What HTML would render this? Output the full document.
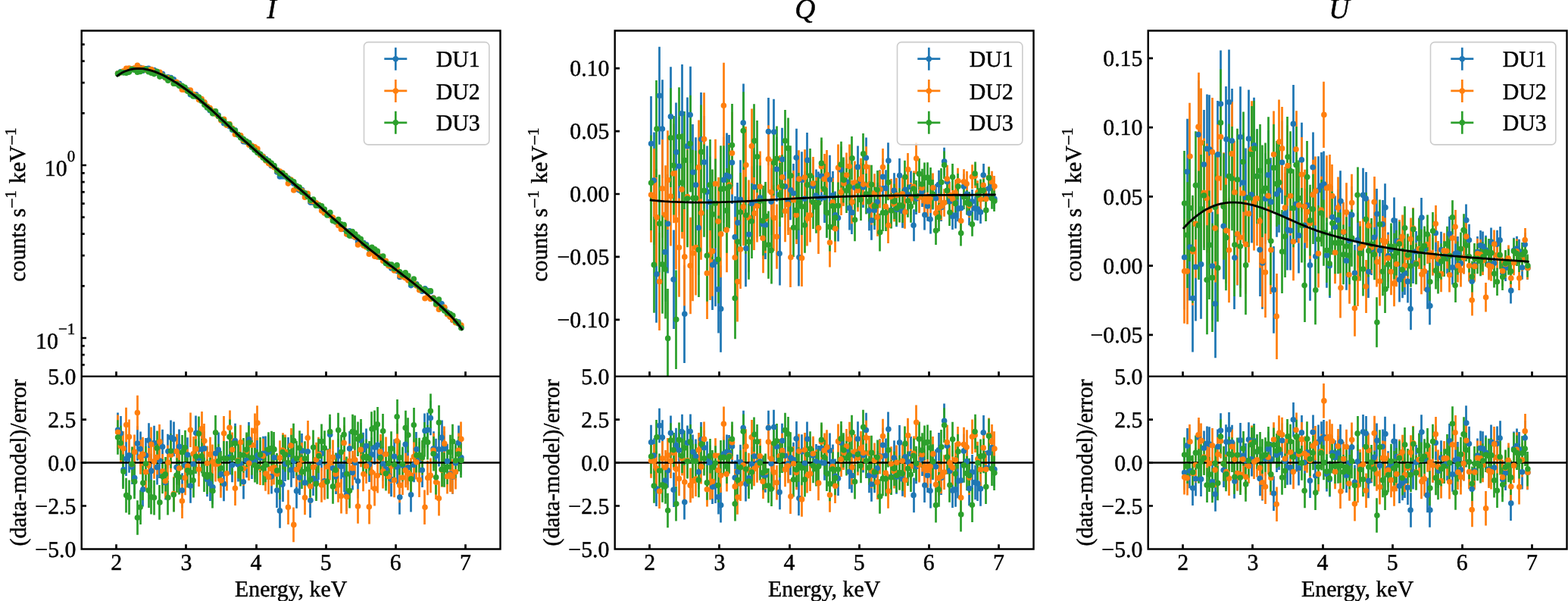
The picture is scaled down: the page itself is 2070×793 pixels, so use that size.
<!DOCTYPE html>
<html><head><meta charset="utf-8"><title>IXPE spectra</title>
<style>
html,body{margin:0;padding:0;background:#fff;}
body{width:2070px;height:793px;overflow:hidden;}
svg{display:block;}
.t{font-family:"Liberation Serif","Times New Roman",serif;font-size:29.8px;fill:#000;stroke:#000;stroke-width:0.45px;text-rendering:geometricPrecision;}
.s{font-size:20.86px;}
.ti{font-family:"Liberation Serif","Times New Roman",serif;font-style:italic;font-size:37.5px;fill:#000;stroke:#000;stroke-width:0.5px;text-rendering:geometricPrecision;}
</style></head><body>
<svg width="2070" height="793" viewBox="0 0 2070 793">
<rect width="100%" height="100%" fill="#fff"/>
<defs>
<clipPath id="ct0"><rect x="107.7" y="40.5" width="552.8" height="456.1"/></clipPath>
<clipPath id="cb0"><rect x="107.7" y="496.6" width="552.8" height="227.9"/></clipPath>
<clipPath id="ct1"><rect x="811.7" y="40.5" width="552.8" height="456.1"/></clipPath>
<clipPath id="cb1"><rect x="811.7" y="496.6" width="552.8" height="227.9"/></clipPath>
<clipPath id="ct2"><rect x="1515.7" y="40.5" width="552.8" height="456.1"/></clipPath>
<clipPath id="cb2"><rect x="1515.7" y="496.6" width="552.8" height="227.9"/></clipPath>
</defs>
<g clip-path="url(#ct0)">
<path d="M155.5 95.5V98.2M159.5 93.3V96M162.5 94.2V97M166.5 91.7V94.5M170.5 90.1V93M174.5 90.2V93.1M177.5 90.5V93.5M181.5 87.3V90.3M185.5 87.8V90.8M188.5 91.6V94.7M192.5 89.2V92.2M196.5 88.7V91.7M199.5 92.3V95.5M203.5 91.1V94.1M207.5 94.6V97.8M210.5 95.6V98.8M214.5 96V99.2M218.5 101.1V104.4M221.5 100.2V103.4M225.5 100.9V104.2M229.5 103.2V106.5M233.5 108.2V111.6M236.5 108.6V111.9M240.5 115.3V118.9M244.5 115.4V118.9M247.5 117V120.5M251.5 122.9V126.5M255.5 123.5V127M258.5 123.2V126.7M262.5 128.7V132.3M266.5 130.8V134.3M269.5 133.7V137.3M273.5 140.1V143.8M277.5 143.8V147.6M280.5 147.5V151.3M284.5 147.2V150.9M288.5 150.2V153.9M291.5 156.3V160.1M295.5 160.9V164.8M299.5 161.6V165.4M303.5 164.9V168.8M306.5 169.2V173.2M310.5 170V173.8M314.5 176V180M317.5 179.3V183.3M321.5 184.7V188.8M325.5 185.5V189.6M328.5 186.4V190.4M332.5 192.3V196.4M336.5 195.5V199.6M339.5 198V202.1M343.5 201.5V205.7M347.5 204.2V208.4M350.5 207.4V211.6M354.5 210.4V214.7M358.5 216.6V221M361.5 217.4V221.8M365.5 224.7V229.3M369.5 230.6V235.3M373.5 230.4V234.9M376.5 230.9V235.4M380.5 232.9V237.3M384.5 238V242.6M387.5 240.1V244.6M391.5 247.2V251.9M395.5 248.6V253.3M398.5 248.3V252.9M402.5 255.7V260.5M406.5 254.8V259.4M409.5 264.7V269.6M413.5 264.9V269.7M417.5 268.6V273.5M420.5 269.2V274M424.5 271.2V276M428.5 278.2V283.2M432.5 279.4V284.2M435.5 278.3V283.1M439.5 286.1V291.1M443.5 290.6V295.6M446.5 290.8V295.8M450.5 295.5V300.5M454.5 299.9V305M457.5 305.8V311.1M461.5 302.4V307.4M465.5 309V314.1M468.5 310.6V315.8M472.5 316.4V321.7M476.5 313.5V318.5M479.5 317.9V323M483.5 320.3V325.4M487.5 326V331.3M490.5 327.5V332.7M494.5 329.3V334.5M498.5 331.8V337M502.5 336.5V341.9M505.5 340.3V345.8M509.5 343.9V349.4M513.5 347.8V353.4M516.5 351.2V356.9M520.5 350.4V355.9M524.5 354.9V360.5M527.5 362.6V368.5M531.5 360.2V365.9M535.5 359.8V365.2M538.5 366.2V372M542.5 373.6V379.6M546.5 371.6V377.3M549.5 372V377.6M553.5 376.5V382.3M557.5 381.3V387.2M560.5 378V383.5M564.5 380.9V386.4M568.5 382.1V387.6M572.5 390.1V395.9M575.5 394.5V400.4M579.5 396.7V402.5M583.5 398.1V403.9M586.5 403.3V409.2M590.5 409V415M594.5 414.9V421.1M597.5 419.3V425.6M601.5 421.1V427.2M605.5 422V428M608.5 429.2V435.3" stroke="#1f77b4" stroke-width="2.75" fill="none"/>
<path d="M155.5 95.6V98.3M159.5 94.3V97.1M162.5 92.5V95.3M166.5 88.9V91.7M170.5 88.6V91.5M174.5 90V92.9M177.5 88.3V91.3M181.5 84.8V87.7M185.5 88.5V91.5M188.5 88.6V91.6M192.5 90.6V93.7M196.5 90.8V93.9M199.5 90V93.1M203.5 92.7V95.8M207.5 93.7V96.9M210.5 93.9V97M214.5 98.2V101.5M218.5 101V104.3M221.5 101.2V104.5M225.5 102.5V105.8M229.5 108.5V111.9M233.5 106.7V110M236.5 110.7V114.1M240.5 116.4V120M244.5 116.7V120.2M247.5 118.2V121.7M251.5 117.3V120.7M255.5 122.5V126M258.5 124.8V128.3M262.5 129.8V133.4M266.5 128.7V132.2M269.5 133V136.5M273.5 138.4V142.1M277.5 140.7V144.4M280.5 144.7V148.5M284.5 148.3V152.1M288.5 151.7V155.5M291.5 157V160.9M295.5 155.4V159.1M299.5 163.2V167.2M303.5 161.7V165.5M306.5 167.5V171.4M310.5 175.3V179.4M314.5 175.5V179.5M317.5 176.8V180.8M321.5 183.2V187.2M325.5 184.5V188.5M328.5 189.2V193.3M332.5 190.3V194.4M336.5 192V195.9M339.5 194.3V198.3M343.5 202.7V206.9M347.5 204.5V208.7M350.5 209.9V214.2M354.5 213.5V217.8M358.5 215.6V220M361.5 218.7V223M365.5 222.7V227.1M369.5 223.8V228.2M373.5 226V230.4M376.5 229.4V233.8M380.5 239.8V244.5M384.5 234.9V239.4M387.5 248.6V253.5M391.5 244.4V249M395.5 247V251.6M398.5 249.5V254.1M402.5 257.8V262.6M406.5 253.1V257.6M409.5 262.7V267.6M413.5 263.4V268.1M417.5 265.6V270.3M420.5 268.1V272.8M424.5 275.5V280.5M428.5 278.4V283.4M432.5 279.5V284.4M435.5 282.2V287.1M439.5 284.6V289.5M443.5 290.2V295.2M446.5 295V300.1M450.5 299.8V305M454.5 295.3V300.2M457.5 306.3V311.6M461.5 304.2V309.2M465.5 308.3V313.5M468.5 310.2V315.3M472.5 320.3V325.8M476.5 314.9V320M479.5 321.4V326.8M483.5 323.3V328.6M487.5 332.5V338.2M490.5 330.1V335.5M494.5 335.6V341.1M498.5 336.4V341.9M502.5 335.6V341M505.5 341.5V347M509.5 341.7V347.1M513.5 347.9V353.5M516.5 349.1V354.7M520.5 354.1V359.8M524.5 350.8V356.2M527.5 360.6V366.4M531.5 362.2V368M535.5 363.8V369.6M538.5 367.1V372.9M542.5 370.4V376.2M546.5 370.2V375.9M549.5 374.1V379.8M553.5 379.9V385.9M557.5 379.3V385M560.5 390.7V397M564.5 388.7V394.7M568.5 391.4V397.4M572.5 390.4V396.2M575.5 399V405.1M579.5 405.1V411.5M583.5 403.5V409.6M586.5 402.5V408.4M590.5 411.6V417.8M594.5 415V421.2M597.5 419.3V425.5M601.5 422.6V428.9M605.5 423.3V429.3M608.5 426.1V432" stroke="#ff7f0e" stroke-width="2.75" fill="none"/>
<path d="M155.5 96V98.8M159.5 94.1V96.8M162.5 94.3V97.2M166.5 94.7V97.7M170.5 93.6V96.6M174.5 89.9V92.9M177.5 90.9V93.9M181.5 93.8V96.9M185.5 92.9V96M188.5 91V94.1M192.5 89.9V93M196.5 93.1V96.3M199.5 94.7V97.9M203.5 96V99.2M207.5 92.9V96M210.5 99.4V102.8M214.5 98.7V102M218.5 100.3V103.6M221.5 104.5V107.9M225.5 102.2V105.5M229.5 108.6V112M233.5 109V112.4M236.5 111.5V115M240.5 111.6V115M244.5 113.7V117.1M247.5 118.6V122.1M251.5 121.5V125.1M255.5 125.1V128.7M258.5 125.6V129.1M262.5 126.2V129.7M266.5 131.5V135.1M269.5 136.5V140.2M273.5 139.8V143.6M277.5 142.8V146.6M280.5 147.9V151.7M284.5 145V148.6M288.5 151.4V155.2M291.5 155.6V159.5M295.5 158.1V161.9M299.5 161.6V165.5M303.5 162.7V166.5M306.5 168.4V172.3M310.5 170.3V174.1M314.5 175.6V179.6M317.5 179.9V183.9M321.5 181.6V185.6M325.5 184.3V188.3M328.5 186.8V190.8M332.5 191.8V195.9M336.5 195.9V200.1M339.5 199.4V203.6M343.5 201.2V205.3M347.5 206V210.2M350.5 208.8V213.1M354.5 210.1V214.3M358.5 213.2V217.4M361.5 216.4V220.7M365.5 222.2V226.6M369.5 226.9V231.4M373.5 226.3V230.6M376.5 229.7V234.1M380.5 233.9V238.4M384.5 235.8V240.2M387.5 237.5V241.9M391.5 242.9V247.5M395.5 244.8V249.3M398.5 251V255.7M402.5 252.5V257.2M406.5 257.2V261.9M409.5 261.8V266.6M413.5 260.7V265.4M417.5 268.9V273.8M420.5 268.3V273.1M424.5 269.6V274.3M428.5 273.7V278.4M432.5 281.6V286.6M435.5 277.9V282.6M439.5 288.7V293.8M443.5 289.6V294.6M446.5 287.3V292M450.5 293.5V298.4M454.5 294.2V299M457.5 302.9V308M461.5 308.5V313.8M465.5 303.1V308M468.5 306.4V311.3M472.5 310.3V315.3M476.5 313V318M479.5 319V324.2M483.5 321.8V327M487.5 325.1V330.3M490.5 323.7V328.8M494.5 326.4V331.5M498.5 328.8V333.9M502.5 336.6V341.9M505.5 335.4V340.6M509.5 344.7V350.2M513.5 345.9V351.4M516.5 346.4V351.8M520.5 351.7V357.2M524.5 347.2V352.4M527.5 356.2V361.7M531.5 360V365.7M535.5 357.3V362.6M538.5 361.2V366.6M542.5 371V376.8M546.5 365.3V370.7M549.5 372.9V378.6M553.5 375.9V381.6M557.5 379.2V385M560.5 379.3V385M564.5 382.8V388.5M568.5 381V386.4M572.5 390.9V396.8M575.5 398.1V404.2M579.5 392.4V398M583.5 403.4V409.5M586.5 406.9V413M590.5 410V416.1M594.5 411.2V417.1M597.5 413.3V419.2M601.5 420.7V426.8M605.5 423.9V430M608.5 429.7V435.9" stroke="#2ca02c" stroke-width="2.75" fill="none"/>
<path d="M155.6 96.8h0M159.3 94.7h0M163 95.6h0M166.7 93.1h0M170.4 91.6h0M174 91.6h0M177.7 92h0M181.4 88.8h0M185.1 89.3h0M188.8 93.2h0M192.5 90.7h0M196.1 90.2h0M199.8 93.9h0M203.5 92.6h0M207.2 96.2h0M210.9 97.2h0M214.6 97.6h0M218.3 102.8h0M221.9 101.8h0M225.6 102.5h0M229.3 104.9h0M233 109.9h0M236.7 110.3h0M240.4 117.1h0M244.1 117.1h0M247.7 118.8h0M251.4 124.7h0M255.1 125.2h0M258.8 124.9h0M262.5 130.5h0M266.2 132.5h0M269.9 135.5h0M273.5 142h0M277.2 145.7h0M280.9 149.4h0M284.6 149h0M288.3 152h0M292 158.2h0M295.7 162.8h0M299.3 163.5h0M303 166.8h0M306.7 171.2h0M310.4 171.9h0M314.1 177.9h0M317.8 181.3h0M321.4 186.7h0M325.1 187.5h0M328.8 188.4h0M332.5 194.3h0M336.2 197.5h0M339.9 200h0M343.6 203.6h0M347.2 206.3h0M350.9 209.5h0M354.6 212.5h0M358.3 218.8h0M362 219.6h0M365.7 227h0M369.4 232.9h0M373 232.6h0M376.7 233.1h0M380.4 235.1h0M384.1 240.3h0M387.8 242.3h0M391.5 249.5h0M395.2 250.9h0M398.8 250.6h0M402.5 258.1h0M406.2 257.1h0M409.9 267.1h0M413.6 267.3h0M417.3 271h0M421 271.6h0M424.6 273.6h0M428.3 280.7h0M432 281.8h0M435.7 280.7h0M439.4 288.6h0M443.1 293.1h0M446.7 293.3h0M450.4 298h0M454.1 302.4h0M457.8 308.4h0M461.5 304.9h0M465.2 311.5h0M468.9 313.2h0M472.5 319h0M476.2 316h0M479.9 320.4h0M483.6 322.8h0M487.3 328.6h0M491 330.1h0M494.7 331.9h0M498.3 334.4h0M502 339.1h0M505.7 343h0M509.4 346.7h0M513.1 350.6h0M516.8 354h0M520.5 353.1h0M524.1 357.6h0M527.8 365.5h0M531.5 363h0M535.2 362.5h0M538.9 369.1h0M542.6 376.6h0M546.3 374.4h0M549.9 374.7h0M553.6 379.4h0M557.3 384.2h0M561 380.7h0M564.7 383.6h0M568.4 384.8h0M572.1 393h0M575.7 397.4h0M579.4 399.6h0M583.1 400.9h0M586.8 406.2h0M590.5 412h0M594.2 418h0M597.8 422.4h0M601.5 424.1h0M605.2 424.9h0M608.9 432.2h0" stroke="#1f77b4" stroke-width="7.6" stroke-linecap="round" fill="none"/>
<path d="M155.6 97h0M159.3 95.7h0M163 93.9h0M166.7 90.3h0M170.4 90h0M174 91.4h0M177.7 89.8h0M181.4 86.2h0M185.1 90h0M188.8 90.1h0M192.5 92.2h0M196.1 92.4h0M199.8 91.5h0M203.5 94.3h0M207.2 95.3h0M210.9 95.4h0M214.6 99.8h0M218.3 102.6h0M221.9 102.8h0M225.6 104.2h0M229.3 110.2h0M233 108.3h0M236.7 112.4h0M240.4 118.2h0M244.1 118.4h0M247.7 119.9h0M251.4 119h0M255.1 124.2h0M258.8 126.6h0M262.5 131.6h0M266.2 130.5h0M269.9 134.7h0M273.5 140.2h0M277.2 142.5h0M280.9 146.6h0M284.6 150.2h0M288.3 153.6h0M292 158.9h0M295.7 157.2h0M299.3 165.2h0M303 163.6h0M306.7 169.4h0M310.4 177.3h0M314.1 177.5h0M317.8 178.8h0M321.4 185.2h0M325.1 186.5h0M328.8 191.2h0M332.5 192.3h0M336.2 193.9h0M339.9 196.3h0M343.6 204.8h0M347.2 206.6h0M350.9 212h0M354.6 215.6h0M358.3 217.8h0M362 220.8h0M365.7 224.9h0M369.4 226h0M373 228.2h0M376.7 231.6h0M380.4 242.1h0M384.1 237.1h0M387.8 251h0M391.5 246.6h0M395.2 249.2h0M398.8 251.8h0M402.5 260.2h0M406.2 255.3h0M409.9 265.1h0M413.6 265.7h0M417.3 267.9h0M421 270.4h0M424.6 278h0M428.3 280.9h0M432 281.9h0M435.7 284.6h0M439.4 287h0M443.1 292.6h0M446.7 297.5h0M450.4 302.4h0M454.1 297.8h0M457.8 308.9h0M461.5 306.7h0M465.2 310.9h0M468.9 312.7h0M472.5 323h0M476.2 317.4h0M479.9 324.1h0M483.6 325.9h0M487.3 335.3h0M491 332.8h0M494.7 338.3h0M498.3 339.1h0M502 338.3h0M505.7 344.2h0M509.4 344.3h0M513.1 350.7h0M516.8 351.8h0M520.5 357h0M524.1 353.5h0M527.8 363.5h0M531.5 365h0M535.2 366.7h0M538.9 370h0M542.6 373.2h0M546.3 373h0M549.9 376.9h0M553.6 382.8h0M557.3 382.1h0M561 393.8h0M564.7 391.6h0M568.4 394.4h0M572.1 393.3h0M575.7 402h0M579.4 408.2h0M583.1 406.5h0M586.8 405.4h0M590.5 414.7h0M594.2 418.1h0M597.8 422.3h0M601.5 425.7h0M605.2 426.3h0M608.9 429h0" stroke="#ff7f0e" stroke-width="7.6" stroke-linecap="round" fill="none"/>
<path d="M155.6 97.4h0M159.3 95.4h0M163 95.8h0M166.7 96.2h0M170.4 95.1h0M174 91.4h0M177.7 92.3h0M181.4 95.3h0M185.1 94.4h0M188.8 92.6h0M192.5 91.4h0M196.1 94.7h0M199.8 96.3h0M203.5 97.6h0M207.2 94.4h0M210.9 101.1h0M214.6 100.3h0M218.3 102h0M221.9 106.2h0M225.6 103.8h0M229.3 110.3h0M233 110.6h0M236.7 113.2h0M240.4 113.3h0M244.1 115.4h0M247.7 120.3h0M251.4 123.3h0M255.1 126.9h0M258.8 127.3h0M262.5 128h0M266.2 133.2h0M269.9 138.3h0M273.5 141.7h0M277.2 144.7h0M280.9 149.8h0M284.6 146.8h0M288.3 153.3h0M292 157.5h0M295.7 160h0M299.3 163.5h0M303 164.6h0M306.7 170.4h0M310.4 172.2h0M314.1 177.6h0M317.8 181.8h0M321.4 183.6h0M325.1 186.3h0M328.8 188.8h0M332.5 193.8h0M336.2 198h0M339.9 201.4h0M343.6 203.2h0M347.2 208.1h0M350.9 210.9h0M354.6 212.2h0M358.3 215.3h0M362 218.6h0M365.7 224.4h0M369.4 229.1h0M373 228.4h0M376.7 231.9h0M380.4 236.1h0M384.1 238h0M387.8 239.7h0M391.5 245.2h0M395.2 247h0M398.8 253.4h0M402.5 254.8h0M406.2 259.5h0M409.9 264.2h0M413.6 263h0M417.3 271.3h0M421 270.7h0M424.6 271.9h0M428.3 276h0M432 284h0M435.7 280.3h0M439.4 291.2h0M443.1 292.1h0M446.7 289.6h0M450.4 295.9h0M454.1 296.6h0M457.8 305.4h0M461.5 311.1h0M465.2 305.5h0M468.9 308.8h0M472.5 312.7h0M476.2 315.4h0M479.9 321.5h0M483.6 324.4h0M487.3 327.7h0M491 326.2h0M494.7 328.9h0M498.3 331.3h0M502 339.2h0M505.7 338h0M509.4 347.4h0M513.1 348.6h0M516.8 349.1h0M520.5 354.4h0M524.1 349.8h0M527.8 358.9h0M531.5 362.8h0M535.2 359.9h0M538.9 363.8h0M542.6 373.9h0M546.3 368h0M549.9 375.8h0M553.6 378.7h0M557.3 382.1h0M561 382.1h0M564.7 385.6h0M568.4 383.7h0M572.1 393.8h0M575.7 401.1h0M579.4 395.1h0M583.1 406.4h0M586.8 409.9h0M590.5 413h0M594.2 414.1h0M597.8 416.2h0M601.5 423.7h0M605.2 426.9h0M608.9 432.7h0" stroke="#2ca02c" stroke-width="7.6" stroke-linecap="round" fill="none"/>
<path d="M153.8 100.8 L157.6 98.1 L161.4 95.8 L165.3 94 L169.1 92.6 L173 91.5 L176.8 90.8 L180.6 90.5 L184.5 90.5 L188.3 90.7 L192.2 91.3 L196 92.1 L199.8 93.2 L203.7 94.4 L207.5 95.9 L211.4 97.5 L215.2 99.3 L219 101.3 L222.9 103.4 L226.7 105.6 L230.6 107.9 L234.4 110.3 L238.3 112.9 L242.1 115.5 L245.9 118.2 L249.8 121.1 L253.6 123.9 L257.5 126.9 L261.3 130 L265.1 133.1 L269 136.3 L272.8 139.6 L276.7 142.9 L280.5 146.3 L284.3 149.8 L288.2 153.4 L292 157 L295.9 160.6 L299.7 164.3 L303.5 167.9 L307.4 171.5 L311.2 175.1 L315.1 178.7 L318.9 182.2 L322.7 185.7 L326.6 189.1 L330.4 192.6 L334.3 196 L338.1 199.4 L341.9 202.8 L345.8 206.1 L349.6 209.5 L353.5 212.8 L357.3 216.2 L361.1 219.5 L365 222.8 L368.8 226.1 L372.7 229.4 L376.5 232.8 L380.3 236.1 L384.2 239.4 L388 242.7 L391.9 246.1 L395.7 249.4 L399.5 252.8 L403.4 256.1 L407.2 259.5 L411.1 262.9 L414.9 266.3 L418.7 269.6 L422.6 273 L426.4 276.4 L430.3 279.8 L434.1 283.2 L437.9 286.5 L441.8 289.9 L445.6 293.2 L449.5 296.6 L453.3 299.9 L457.1 303.2 L461 306.5 L464.8 309.7 L468.7 313 L472.5 316.2 L476.3 319.4 L480.2 322.6 L484 325.7 L487.9 328.8 L491.7 331.9 L495.5 334.9 L499.4 337.9 L503.2 340.9 L507.1 343.9 L510.9 346.8 L514.7 349.8 L518.6 352.7 L522.4 355.6 L526.3 358.6 L530.1 361.5 L533.9 364.5 L537.8 367.4 L541.6 370.4 L545.5 373.4 L549.3 376.5 L553.1 379.5 L557 382.7 L560.8 385.8 L564.7 389 L568.5 392.3 L572.3 395.6 L576.2 399 L580 402.4 L583.9 405.9 L587.7 409.5 L591.5 413.3 L595.4 417.2 L599.2 421.4 L603.1 425.8 L606.9 430.6 L610.7 435.6" stroke="#000" stroke-width="2.85" fill="none" stroke-linejoin="round"/>
</g>
<g clip-path="url(#cb0)">
<path d="M155.5 544.5V590M159.5 548.9V594.5M162.5 596.9V642.5M166.5 582.5V628.1M170.5 578.1V623.7M174.5 593.3V638.9M177.5 607.8V653.4M181.5 562.3V607.8M185.5 569.5V615M188.5 623V668.5M192.5 578.1V623.7M196.5 558.2V603.8M199.5 598.6V644.2M203.5 561.7V607.2M207.5 593.8V639.4M210.5 585.4V630.9M214.5 566.7V612.3M218.5 614V659.6M221.5 572.8V618.4M225.5 554.5V600.1M229.5 556.6V602.2M233.5 593.8V639.4M236.5 566.6V612.2M240.5 624.3V669.9M244.5 591.1V636.7M247.5 577.3V622.9M251.5 618.3V663.8M255.5 589.5V635.1M258.5 548.4V594M262.5 581.9V627.4M266.5 570V615.6M269.5 568.9V614.4M273.5 609.6V655.2M277.5 615.3V660.9M280.5 619.9V665.5M284.5 575.4V621M288.5 570.6V616.2M291.5 602.8V648.4M295.5 615.8V661.3M299.5 581.9V627.5M303.5 580.6V626.2M306.5 590.7V636.3M310.5 558.8V604.4M314.5 589.9V635.5M317.5 589.3V634.8M321.5 613V658.6M325.5 584.7V630.2M328.5 557.1V602.6M332.5 586.4V631.9M336.5 586.1V631.7M339.5 577.9V623.5M343.5 581.4V627M347.5 575.7V621.3M350.5 575.5V621.1M354.5 573.7V619.2M358.5 605.9V651.5M361.5 580.9V626.5M365.5 624.3V669.9M369.5 651.1V696.7M373.5 616.5V662.1M376.5 589.4V635M380.5 577V622.5M384.5 597.2V642.8M387.5 585.5V631.1M391.5 625.1V670.7M395.5 607.3V652.9M398.5 572.1V617.7M402.5 614.1V659.7M406.5 572.9V618.5M409.5 637.4V683M413.5 608.4V654M417.5 612.7V658.3M420.5 587.6V633.2M424.5 575.6V621.2M428.5 612V657.6M432.5 591.9V637.5M435.5 550.8V596.4M439.5 595V640.6M443.5 606.4V651.9M446.5 578.9V624.5M450.5 592.9V638.4M454.5 603.8V649.3M457.5 628.7V674.3M461.5 569.1V614.7M465.5 600.8V646.4M468.5 587.7V633.3M472.5 612V657.6M476.5 558.1V603.7M479.5 570.7V616.3M483.5 565.4V611M487.5 590.3V635.9M490.5 577.1V622.7M494.5 567.5V613M498.5 564.4V610M502.5 580.6V626.2M505.5 589.2V634.8M509.5 596V641.5M513.5 604.8V650.4M516.5 609.8V655.3M520.5 579.6V625.1M524.5 593.3V638.9M527.5 633.2V678.8M531.5 591.3V636.9M535.5 563.5V609.1M538.5 594V639.6M542.5 630V675.6M546.5 590.6V636.2M549.5 569.9V615.5M553.5 583.2V628.7M557.5 597.5V643.1M560.5 545.6V591.2M564.5 544.5V590M568.5 528.7V574.3M572.5 569.2V614.8M575.5 578.8V624.4M579.5 570V615.5M583.5 554.6V600.2M586.5 569.1V614.6M590.5 585.8V631.3M594.5 602.7V648.2M597.5 606.3V651.8M601.5 588.3V633.9M605.5 561.4V606.9M608.5 580.9V626.5" stroke="#1f77b4" stroke-width="2.75" fill="none"/>
<path d="M155.5 547.4V593M159.5 565.7V611.2M162.5 569V614.6M166.5 537.7V583.3M170.5 553.6V599.2M174.5 589.8V635.4M177.5 573.6V619.2M181.5 521.7V567.2M185.5 580.1V625.7M188.5 576.7V622.3M192.5 599.9V645.5M196.5 591V636.6M199.5 563.5V609.1M203.5 586.2V631.7M207.5 580.7V626.2M210.5 560.1V605.7M214.5 598.9V644.5M218.5 611.9V657.5M221.5 587.5V633M225.5 577.4V623M229.5 628.8V674.4M233.5 572.7V618.3M236.5 595V640.6M240.5 638.4V683.9M244.5 607.7V653.2M247.5 592.3V637.8M251.5 544.5V590M255.5 576V621.6M258.5 569.6V615.2M262.5 596.4V642M266.5 543.1V588.7M269.5 558.9V604.5M273.5 588.4V634M277.5 576.7V622.3M280.5 586.6V632.2M284.5 589.9V635.4M288.5 589.2V634.8M291.5 611.2V656.8M295.5 549V594.6M299.5 602V647.6M303.5 541.5V587.1M306.5 570.5V616M310.5 621.5V667.1M314.5 585V630.6M317.5 560.7V606.3M321.5 595.4V640.9M325.5 573V618.5M328.5 588.4V634M332.5 564.4V610M336.5 545.6V591.2M339.5 535.3V580.9M343.5 594.4V640M347.5 578.8V624.4M350.5 602.2V647.8M354.5 606.7V652.3M358.5 595.7V641.3M361.5 594V639.6M365.5 602.8V648.3M369.5 581.2V626.8M373.5 571.2V616.8M376.5 573.5V619.1M380.5 646.6V692.1M384.5 565.1V610.7M387.5 669.6V715.2M391.5 596.8V642.4M395.5 590.7V636.3M398.5 584V629.6M402.5 633.7V679.3M406.5 554.9V600.5M409.5 619V664.6M413.5 593.6V639.2M417.5 583.7V629.3M420.5 576.7V622.2M424.5 617.1V662.7M428.5 613.8V659.4M432.5 593V638.6M435.5 588V633.6M439.5 580.6V626.2M443.5 602.7V648.3M446.5 617.2V662.8M450.5 631.9V677.4M454.5 561.6V607.2M457.5 632.7V678.3M461.5 585.5V631M465.5 595.1V640.6M468.5 584V629.6M472.5 645.2V690.8M476.5 570.6V616.2M479.5 602.7V648.3M483.5 592.3V637.9M487.5 645.9V691.5M490.5 600.3V645.9M494.5 622V667.6M498.5 604.9V650.4M502.5 573.1V618.7M505.5 598.9V644.5M509.5 576.5V622.1M513.5 605.9V651.5M516.5 592.2V637.8M520.5 610.8V656.3M524.5 558.9V604.5M527.5 617.6V663.2M531.5 607.4V653M535.5 597.7V643.3M538.5 601.3V646.8M542.5 604.2V649.8M546.5 579.7V625.3M549.5 587V632.6M553.5 610.4V655.9M557.5 581.4V627M560.5 646.5V692.1M564.5 607.7V653.3M568.5 604.6V650.2M572.5 571.6V617.1M575.5 613.5V659.1M579.5 634.8V680.4M583.5 597.2V642.8M586.5 562.6V608.2M590.5 606V651.6M594.5 603.5V649M597.5 605.9V651.4M601.5 600V645.6M605.5 571.5V617.1M608.5 556.4V602" stroke="#ff7f0e" stroke-width="2.75" fill="none"/>
<path d="M155.5 554.3V599.8M159.5 561.8V607.4M162.5 599.5V645.1M166.5 630.8V676.4M170.5 633.4V678.9M174.5 589.4V635M177.5 612.7V658.3M181.5 660.2V705.8M185.5 646.6V692.1M188.5 614.5V660.1M192.5 589V634.5M196.5 624.3V669.9M199.5 632.9V678.5M203.5 633.8V679.4M207.5 568.5V614M210.5 640.1V685.7M214.5 605.7V651.3M218.5 602.9V648.5M221.5 633.8V679.4M225.5 572.2V617.8M229.5 630.1V675.6M233.5 604.3V649.9M236.5 606.9V652.4M240.5 573.9V619.5M244.5 567.8V613.3M247.5 597.9V643.5M251.5 600.6V646.1M255.5 611V656.6M258.5 579.4V624.9M262.5 549.6V595.1M266.5 578.9V624.5M269.5 603.5V649.1M273.5 606.4V652M277.5 603.7V649.2M280.5 625V670.6M284.5 547.9V593.5M288.5 585.8V631.3M291.5 595V640.6M295.5 581.9V627.5M299.5 582.4V628M303.5 553.6V599.2M306.5 581.3V626.8M310.5 562.3V607.9M314.5 585.8V631.4M317.5 595.9V641.4M321.5 577.9V623.4M325.5 570.4V615.9M328.5 561.4V606.9M332.5 581.1V626.7M336.5 590.9V636.5M339.5 593.1V638.7M343.5 577.1V622.7M347.5 594.8V640.3M350.5 590.6V636.2M354.5 570.3V615.9M358.5 568.8V614.3M361.5 570.1V615.7M365.5 598.1V643.7M369.5 613.5V659.1M373.5 573.8V619.4M376.5 577V622.5M380.5 587.7V633.3M384.5 573.8V619.4M387.5 558.7V604.3M391.5 582.1V627.7M395.5 568.2V613.8M398.5 599.6V645.1M402.5 582.3V627.9M406.5 596.2V641.8M409.5 610.3V655.9M413.5 567.4V613M417.5 615.6V661.1M420.5 578.7V624.3M424.5 559.6V605.2M428.5 568.2V613.8M432.5 612.7V658.2M435.5 546.7V592.3M439.5 619.1V664.7M443.5 597.6V643.1M446.5 544.7V590.3M450.5 573.8V619.3M454.5 550.6V596.1M457.5 602.4V648M461.5 624.8V670.4M465.5 546.7V592.3M468.5 548.2V593.8M472.5 556.4V602M476.5 553V598.6M479.5 580.8V626.3M483.5 579.5V625M487.5 582V627.6M490.5 543.2V588.7M494.5 541.5V587.1M498.5 537.1V582.7M502.5 581.4V626.9M505.5 545.9V591.5M509.5 602V647.6M513.5 588.8V634.3M516.5 569.2V614.7M520.5 590.3V635.9M524.5 526.9V572.5M527.5 580.9V626.5M531.5 589.5V635.1M535.5 541.8V587.4M538.5 551.3V596.9M542.5 609.1V654.7M546.5 538V583.6M549.5 578V623.6M553.5 577.8V623.4M557.5 580.9V626.5M560.5 557.1V602.7M564.5 560.8V606.4M568.5 519.4V565M572.5 575.9V621.4M575.5 606.9V652.5M579.5 534.7V580.3M583.5 596.4V642M586.5 597.2V642.8M590.5 593.3V638.9M594.5 573.8V619.4M597.5 559.8V605.4M601.5 585V630.6M605.5 576.3V621.9M608.5 584.7V630.2" stroke="#2ca02c" stroke-width="2.75" fill="none"/>
<path d="M107.7 610.55H660.5" stroke="#000" stroke-width="2.5"/>
<path d="M155.6 567.2h0M159.3 571.7h0M163 619.7h0M166.7 605.3h0M170.4 600.9h0M174 616.1h0M177.7 630.6h0M181.4 585.1h0M185.1 592.2h0M188.8 645.7h0M192.5 600.9h0M196.1 581h0M199.8 621.4h0M203.5 584.5h0M207.2 616.6h0M210.9 608.1h0M214.6 589.5h0M218.3 636.8h0M221.9 595.6h0M225.6 577.3h0M229.3 579.4h0M233 616.6h0M236.7 589.4h0M240.4 647.1h0M244.1 613.9h0M247.7 600.1h0M251.4 641.1h0M255.1 612.3h0M258.8 571.2h0M262.5 604.7h0M266.2 592.8h0M269.9 591.7h0M273.5 632.4h0M277.2 638.1h0M280.9 642.7h0M284.6 598.2h0M288.3 593.4h0M292 625.6h0M295.7 638.6h0M299.3 604.7h0M303 603.4h0M306.7 613.5h0M310.4 581.6h0M314.1 612.7h0M317.8 612.1h0M321.4 635.8h0M325.1 607.5h0M328.8 579.9h0M332.5 609.2h0M336.2 608.9h0M339.9 600.7h0M343.6 604.2h0M347.2 598.5h0M350.9 598.3h0M354.6 596.5h0M358.3 628.7h0M362 603.7h0M365.7 647.1h0M369.4 673.9h0M373 639.3h0M376.7 612.2h0M380.4 599.7h0M384.1 620h0M387.8 608.3h0M391.5 647.9h0M395.2 630.1h0M398.8 594.9h0M402.5 636.9h0M406.2 595.7h0M409.9 660.2h0M413.6 631.2h0M417.3 635.5h0M421 610.4h0M424.6 598.4h0M428.3 634.8h0M432 614.7h0M435.7 573.6h0M439.4 617.8h0M443.1 629.1h0M446.7 601.7h0M450.4 615.6h0M454.1 626.5h0M457.8 651.5h0M461.5 591.9h0M465.2 623.6h0M468.9 610.5h0M472.5 634.8h0M476.2 580.9h0M479.9 593.5h0M483.6 588.2h0M487.3 613.1h0M491 599.9h0M494.7 590.3h0M498.3 587.2h0M502 603.4h0M505.7 612h0M509.4 618.7h0M513.1 627.6h0M516.8 632.6h0M520.5 602.3h0M524.1 616.1h0M527.8 656h0M531.5 614.1h0M535.2 586.3h0M538.9 616.8h0M542.6 652.8h0M546.3 613.4h0M549.9 592.7h0M553.6 605.9h0M557.3 620.3h0M561 568.4h0M564.7 567.3h0M568.4 551.5h0M572.1 592h0M575.7 601.6h0M579.4 592.7h0M583.1 577.4h0M586.8 591.9h0M590.5 608.6h0M594.2 625.4h0M597.8 629.1h0M601.5 611.1h0M605.2 584.2h0M608.9 603.7h0" stroke="#1f77b4" stroke-width="7.6" stroke-linecap="round" fill="none"/>
<path d="M155.6 570.2h0M159.3 588.4h0M163 591.8h0M166.7 560.5h0M170.4 576.4h0M174 612.6h0M177.7 596.4h0M181.4 544.5h0M185.1 602.9h0M188.8 599.5h0M192.5 622.7h0M196.1 613.8h0M199.8 586.3h0M203.5 608.9h0M207.2 603.4h0M210.9 582.9h0M214.6 621.7h0M218.3 634.7h0M221.9 610.3h0M225.6 600.2h0M229.3 651.6h0M233 595.5h0M236.7 617.8h0M240.4 661.1h0M244.1 630.5h0M247.7 615.1h0M251.4 567.2h0M255.1 598.8h0M258.8 592.4h0M262.5 619.2h0M266.2 565.9h0M269.9 581.7h0M273.5 611.2h0M277.2 599.5h0M280.9 609.4h0M284.6 612.6h0M288.3 612h0M292 634h0M295.7 571.8h0M299.3 624.8h0M303 564.3h0M306.7 593.3h0M310.4 644.3h0M314.1 607.8h0M317.8 583.5h0M321.4 618.1h0M325.1 595.8h0M328.8 611.2h0M332.5 587.2h0M336.2 568.4h0M339.9 558.1h0M343.6 617.2h0M347.2 601.6h0M350.9 625h0M354.6 629.5h0M358.3 618.5h0M362 616.8h0M365.7 625.5h0M369.4 604h0M373 594h0M376.7 596.3h0M380.4 669.3h0M384.1 587.9h0M387.8 692.4h0M391.5 619.6h0M395.2 613.5h0M398.8 606.8h0M402.5 656.5h0M406.2 577.7h0M409.9 641.8h0M413.6 616.4h0M417.3 606.5h0M421 599.5h0M424.6 639.9h0M428.3 636.6h0M432 615.8h0M435.7 610.8h0M439.4 603.4h0M443.1 625.5h0M446.7 640h0M450.4 654.6h0M454.1 584.4h0M457.8 655.5h0M461.5 608.2h0M465.2 617.8h0M468.9 606.8h0M472.5 668h0M476.2 593.4h0M479.9 625.5h0M483.6 615.1h0M487.3 668.7h0M491 623.1h0M494.7 644.8h0M498.3 627.6h0M502 595.9h0M505.7 621.7h0M509.4 599.3h0M513.1 628.7h0M516.8 615h0M520.5 633.5h0M524.1 581.7h0M527.8 640.4h0M531.5 630.2h0M535.2 620.5h0M538.9 624h0M542.6 627h0M546.3 602.5h0M549.9 609.8h0M553.6 633.1h0M557.3 604.2h0M561 669.3h0M564.7 630.5h0M568.4 627.4h0M572.1 594.4h0M575.7 636.3h0M579.4 657.6h0M583.1 620h0M586.8 585.4h0M590.5 628.8h0M594.2 626.2h0M597.8 628.7h0M601.5 622.8h0M605.2 594.3h0M608.9 579.2h0" stroke="#ff7f0e" stroke-width="7.6" stroke-linecap="round" fill="none"/>
<path d="M155.6 577h0M159.3 584.6h0M163 622.3h0M166.7 653.6h0M170.4 656.2h0M174 612.2h0M177.7 635.5h0M181.4 683h0M185.1 669.3h0M188.8 637.3h0M192.5 611.8h0M196.1 647.1h0M199.8 655.7h0M203.5 656.6h0M207.2 591.2h0M210.9 662.9h0M214.6 628.5h0M218.3 625.7h0M221.9 656.6h0M225.6 595h0M229.3 652.8h0M233 627.1h0M236.7 629.6h0M240.4 596.7h0M244.1 590.5h0M247.7 620.7h0M251.4 623.3h0M255.1 633.8h0M258.8 602.2h0M262.5 572.3h0M266.2 601.7h0M269.9 626.3h0M273.5 629.2h0M277.2 626.5h0M280.9 647.8h0M284.6 570.7h0M288.3 608.5h0M292 617.8h0M295.7 604.7h0M299.3 605.2h0M303 576.4h0M306.7 604.1h0M310.4 585.1h0M314.1 608.6h0M317.8 618.6h0M321.4 600.6h0M325.1 593.2h0M328.8 584.1h0M332.5 603.9h0M336.2 613.7h0M339.9 615.9h0M343.6 599.9h0M347.2 617.6h0M350.9 613.4h0M354.6 593.1h0M358.3 591.5h0M362 592.9h0M365.7 620.9h0M369.4 636.3h0M373 596.6h0M376.7 599.7h0M380.4 610.5h0M384.1 596.6h0M387.8 581.5h0M391.5 604.9h0M395.2 591h0M398.8 622.4h0M402.5 605.1h0M406.2 619h0M409.9 633.1h0M413.6 590.2h0M417.3 638.4h0M421 601.5h0M424.6 582.4h0M428.3 591h0M432 635.4h0M435.7 569.5h0M439.4 641.9h0M443.1 620.3h0M446.7 567.5h0M450.4 596.6h0M454.1 573.4h0M457.8 625.2h0M461.5 647.6h0M465.2 569.5h0M468.9 571h0M472.5 579.2h0M476.2 575.8h0M479.9 603.6h0M483.6 602.2h0M487.3 604.8h0M491 566h0M494.7 564.3h0M498.3 559.9h0M502 604.2h0M505.7 568.7h0M509.4 624.8h0M513.1 611.5h0M516.8 591.9h0M520.5 613.1h0M524.1 549.7h0M527.8 603.7h0M531.5 612.3h0M535.2 564.6h0M538.9 574.1h0M542.6 631.9h0M546.3 560.8h0M549.9 600.8h0M553.6 600.6h0M557.3 603.7h0M561 579.9h0M564.7 583.6h0M568.4 542.2h0M572.1 598.7h0M575.7 629.7h0M579.4 557.5h0M583.1 619.2h0M586.8 620h0M590.5 616.1h0M594.2 596.6h0M597.8 582.6h0M601.5 607.8h0M605.2 599.1h0M608.9 607.4h0" stroke="#2ca02c" stroke-width="7.6" stroke-linecap="round" fill="none"/>
</g>
<g clip-path="url(#ct1)">
<path d="M859.5 126.9V252.4M863.5 174.6V301.5M866.5 297.8V425.8M870.5 61.8V190.8M874.5 105.2V234.9M878.5 267.5V397.7M881.5 230V360.6M885.5 88.3V219M889.5 303.4V434.1M892.5 135.5V266.1M896.5 154.2V284.4M900.5 85V214.7M903.5 349.8V478.9M907.5 128.6V257.1M911.5 87.7V215.3M914.5 163.9V290.7M918.5 181.2V306.9M922.5 238.3V363M925.5 122V245.5M929.5 152.9V275.3M933.5 192.5V313.7M937.5 206.5V326.4M940.5 290.3V408.9M944.5 287V404.3M948.5 323.7V439.6M951.5 350.3V464.8M955.5 180.8V294M959.5 175.4V287.1M962.5 178V288.3M966.5 160.1V268.9M970.5 259.1V366.3M973.5 241V346.8M977.5 211.2V315.5M981.5 110.6V213.3M984.5 277V378.3M988.5 259.4V359.2M992.5 219.5V317.6M995.5 198.5V295.1M999.5 218.3V313.4M1003.5 214.1V307.7M1007.5 249.7V341.9M1010.5 251.4V342.1M1014.5 128.9V218.2M1018.5 222.1V310M1021.5 130.8V217.4M1025.5 180.7V266M1029.5 292.6V376.6M1032.5 168.8V251.5M1036.5 205.3V286.8M1040.5 224.3V304.6M1043.5 211.2V290.3M1047.5 216V294M1051.5 169.7V246.5M1054.5 301.7V377.4M1058.5 200.3V274.9M1062.5 225.5V299.1M1065.5 175.1V247.6M1069.5 208.4V279.8M1073.5 210.6V281.1M1077.5 223.4V292.8M1080.5 226.5V294.9M1084.5 198.6V266M1088.5 227.5V293.9M1091.5 247.9V313.5M1095.5 204.7V269.3M1099.5 226.1V289.7M1102.5 252.5V315.2M1106.5 256.6V318.4M1110.5 193.5V254.4M1113.5 210.4V270.4M1117.5 210.5V269.7M1121.5 245.3V303.6M1124.5 251.7V309.1M1128.5 219.2V275.8M1132.5 192.5V248.3M1136.5 214.9V269.8M1139.5 219.9V274M1143.5 181.6V234.9M1147.5 251.8V304.3M1150.5 264.9V316.7M1154.5 251.9V302.9M1158.5 241.1V291.4M1161.5 224.2V273.8M1165.5 208.8V257.7M1169.5 224.3V272.5M1172.5 188.2V235.7M1176.5 254V300.9M1180.5 228.3V274.5M1183.5 253.6V299.2M1187.5 209.1V254.1M1191.5 256.5V300.8M1194.5 228.4V272.2M1198.5 235.1V278.3M1202.5 225.4V268M1206.5 276.2V318.3M1209.5 241.3V282.9M1213.5 238.5V279.5M1217.5 232.5V273M1220.5 263.7V303.6M1224.5 252.2V291.7M1228.5 269.7V308.6M1231.5 238.2V276.6M1235.5 242.8V280.8M1239.5 224.8V262.3M1242.5 254.9V291.9M1246.5 194.8V231.3M1250.5 221.8V257.8M1253.5 248V283.6M1257.5 268V303.1M1261.5 266.8V301.4M1264.5 258.2V292.3M1268.5 257.6V291.3M1272.5 229.4V262.6M1276.5 239.7V272.4M1279.5 265.1V297.3M1283.5 249.9V281.6M1287.5 259.3V290.6M1290.5 260.3V291.1M1294.5 264.8V295.1M1298.5 216.1V245.9M1301.5 246.9V276.2M1305.5 234.4V263.1M1309.5 230.7V258.8M1312.5 248.5V276" stroke="#1f77b4" stroke-width="2.75" fill="none"/>
<path d="M859.5 194.3V319.8M863.5 196V322.9M866.5 222.8V350.9M870.5 307.1V436.1M874.5 184V313.7M878.5 218.3V348.5M881.5 172.3V302.9M885.5 193.7V324.5M889.5 163.6V294.3M892.5 225.1V355.6M896.5 261.5V391.7M900.5 185V314.8M903.5 274.3V403.5M907.5 195.3V323.7M911.5 286.7V414.3M914.5 270.6V397.3M918.5 263.8V389.5M922.5 158.6V283.3M925.5 219.3V342.8M929.5 122.3V244.7M933.5 299.9V421.1M937.5 276.2V396.1M940.5 272.1V390.8M944.5 183.8V301.1M948.5 234.1V350.1M951.5 251.6V366.1M955.5 82.7V195.8M959.5 247.6V359.3M962.5 188.9V299.2M966.5 147.7V256.5M970.5 286.2V393.5M973.5 318.7V424.5M977.5 276.8V381.1M981.5 221.5V324.3M984.5 167.1V268.3M988.5 237.4V337.1M992.5 143.6V241.8M995.5 233.3V329.9M999.5 224.3V319.4M1003.5 199.4V293M1007.5 268.1V360.2M1010.5 243.2V333.9M1014.5 165.2V254.5M1018.5 209.6V297.5M1021.5 244.3V330.9M1025.5 269.6V354.8M1029.5 205V289M1032.5 192.3V275.1M1036.5 237.7V319.2M1040.5 229.7V310M1043.5 300V379.1M1047.5 225V303M1051.5 245.3V322.1M1054.5 198.2V273.9M1058.5 303.2V377.9M1062.5 197.3V270.9M1065.5 251.9V324.4M1069.5 248V319.4M1073.5 206.9V277.3M1077.5 234.1V303.5M1080.5 266.5V334.9M1084.5 186V253.4M1088.5 203.1V269.5M1091.5 197.9V263.4M1095.5 287.8V352.4M1099.5 234.9V298.5M1102.5 270.4V333.1M1106.5 190.4V252.2M1110.5 223.2V284.1M1113.5 211.9V271.9M1117.5 201.5V260.7M1121.5 190.5V248.7M1124.5 237.9V295.3M1128.5 212.5V269.1M1132.5 223.5V279.2M1136.5 208.8V263.7M1139.5 216.1V270.2M1143.5 193.3V246.7M1147.5 217.6V270.2M1150.5 244.6V296.4M1154.5 229.3V280.4M1158.5 261.5V311.8M1161.5 225V274.6M1165.5 196.1V245M1169.5 248.3V296.5M1172.5 273.4V320.9M1176.5 236.1V282.9M1180.5 246.2V292.4M1183.5 234.8V280.4M1187.5 248.4V293.4M1191.5 233.5V277.9M1194.5 258V301.7M1198.5 202V245.2M1202.5 240.9V283.5M1206.5 225.4V267.5M1209.5 188.3V229.8M1213.5 239.9V280.9M1217.5 227.8V268.2M1220.5 242.2V282.1M1224.5 246.3V285.8M1228.5 242.1V281M1231.5 228.4V266.9M1235.5 262.3V300.3M1239.5 255.4V292.9M1242.5 253.5V290.5M1246.5 249.2V285.7M1250.5 218V254.1M1253.5 239.8V275.3M1257.5 244.8V279.9M1261.5 237.1V271.7M1264.5 221.7V255.8M1268.5 274.4V308.1M1272.5 223.2V256.4M1276.5 226.1V258.8M1279.5 255.1V287.3M1283.5 217.3V249.1M1287.5 216.6V247.9M1290.5 238.3V269.1M1294.5 248V278.3M1298.5 229.3V259.1M1301.5 247.9V277.2M1305.5 219.8V248.5M1309.5 225.7V253.8M1312.5 232V259.6" stroke="#ff7f0e" stroke-width="2.75" fill="none"/>
<path d="M859.5 178.4V303.9M863.5 286V412.8M866.5 106.1V234.1M870.5 230.6V359.6M874.5 284V413.7M878.5 290.1V420.4M881.5 381.1V511.6M885.5 116.3V247.1M889.5 152.9V283.6M892.5 356.4V486.9M896.5 115.3V245.5M900.5 176.3V306M903.5 147V276.1M907.5 197.8V326.2M911.5 125.8V253.5M914.5 197.8V324.5M918.5 198.7V324.4M922.5 267.2V391.9M925.5 138.6V262.2M929.5 190.4V312.8M933.5 276.6V397.8M937.5 184.1V304M940.5 223.6V342.2M944.5 209.6V326.9M948.5 284.4V400.3M951.5 192.3V306.9M955.5 192.3V305.4M959.5 222.1V333.8M962.5 191.1V301.3M966.5 137.1V245.9M970.5 340V447.3M973.5 266.1V371.9M977.5 228V332.3M981.5 121.2V224M984.5 233.5V334.8M988.5 269.1V368.8M992.5 242.9V341.1M995.5 137.3V234M999.5 159.1V254.2M1003.5 218.4V312M1007.5 245.1V337.2M1010.5 240.1V330.8M1014.5 278.5V367.8M1018.5 286.5V374.4M1021.5 171.5V258.1M1025.5 166.6V251.9M1029.5 214.9V298.9M1032.5 204.3V287M1036.5 144.9V226.4M1040.5 155.5V235.8M1043.5 192.2V271.4M1047.5 261.2V339.1M1051.5 238.9V315.8M1054.5 227.9V303.7M1058.5 235.3V309.9M1062.5 260.2V333.8M1065.5 207.7V280.2M1069.5 196V267.5M1073.5 231.5V302M1077.5 238.4V307.8M1080.5 233.5V302M1084.5 181.6V249.1M1088.5 216.2V282.6M1091.5 248.2V313.7M1095.5 267.1V331.6M1099.5 239.9V303.5M1102.5 255.7V318.4M1106.5 240.5V302.3M1110.5 186.7V247.6M1113.5 207.6V267.6M1117.5 221.9V281M1121.5 217.2V275.5M1124.5 180V237.4M1128.5 261.7V318.3M1132.5 217.6V273.4M1136.5 235.9V290.9M1139.5 175.9V230M1143.5 229.1V282.4M1147.5 239.6V292.2M1150.5 217.7V269.5M1154.5 246.4V297.5M1158.5 225V275.4M1161.5 281.8V331.4M1165.5 256.2V305M1169.5 256.7V304.9M1172.5 216.8V264.3M1176.5 254.7V301.6M1180.5 242.8V289M1183.5 251.9V297.5M1187.5 248.3V293.3M1191.5 249.7V294.1M1194.5 211.7V255.5M1198.5 243.5V286.7M1202.5 251.1V293.7M1206.5 228V270.1M1209.5 237.9V279.4M1213.5 208.9V249.9M1217.5 222.7V263.2M1220.5 214.5V254.4M1224.5 214.3V253.7M1228.5 221.1V260.1M1231.5 237V275.5M1235.5 285.2V323.1M1239.5 267.8V305.3M1242.5 222V259M1246.5 199.5V236M1250.5 233.3V269.4M1253.5 262.5V298.1M1257.5 216V251.1M1261.5 251V285.7M1264.5 229.1V263.2M1268.5 290.8V324.4M1272.5 243.1V276.3M1276.5 250.9V283.6M1279.5 253.1V285.3M1283.5 280V311.8M1287.5 213.4V244.7M1290.5 241.8V272.6M1294.5 236.4V266.7M1298.5 236.3V266.1M1301.5 262.8V292.1M1305.5 220.4V249.1M1309.5 247.7V275.8M1312.5 251.4V278.9" stroke="#2ca02c" stroke-width="2.75" fill="none"/>
<path d="M859.6 189.6h0M863.3 238.1h0M867 361.8h0M870.7 126.3h0M874.4 170.1h0M878 332.6h0M881.7 295.3h0M885.4 153.7h0M889.1 368.7h0M892.8 200.8h0M896.5 219.3h0M900.1 149.8h0M903.8 414.3h0M907.5 192.9h0M911.2 151.5h0M914.9 227.3h0M918.6 244h0M922.3 300.6h0M925.9 183.7h0M929.6 214.1h0M933.3 253.1h0M937 266.5h0M940.7 349.6h0M944.4 345.6h0M948.1 381.7h0M951.7 407.5h0M955.4 237.4h0M959.1 231.3h0M962.8 233.1h0M966.5 214.5h0M970.2 312.7h0M973.9 293.9h0M977.5 263.4h0M981.2 162h0M984.9 327.7h0M988.6 309.3h0M992.3 268.5h0M996 246.8h0M999.7 265.8h0M1003.3 260.9h0M1007 295.8h0M1010.7 296.8h0M1014.4 173.6h0M1018.1 266.1h0M1021.8 174.1h0M1025.4 223.3h0M1029.1 334.6h0M1032.8 210.2h0M1036.5 246.1h0M1040.2 264.4h0M1043.9 250.8h0M1047.6 255h0M1051.2 208.1h0M1054.9 339.6h0M1058.6 237.6h0M1062.3 262.3h0M1066 211.4h0M1069.7 244.1h0M1073.4 245.8h0M1077 258.1h0M1080.7 260.7h0M1084.4 232.3h0M1088.1 260.7h0M1091.8 280.7h0M1095.5 237h0M1099.2 257.9h0M1102.8 283.9h0M1106.5 287.5h0M1110.2 223.9h0M1113.9 240.4h0M1117.6 240.1h0M1121.3 274.5h0M1125 280.4h0M1128.6 247.5h0M1132.3 220.4h0M1136 242.4h0M1139.7 246.9h0M1143.4 208.3h0M1147.1 278.1h0M1150.7 290.8h0M1154.4 277.4h0M1158.1 266.3h0M1161.8 249h0M1165.5 233.2h0M1169.2 248.4h0M1172.9 212h0M1176.5 277.4h0M1180.2 251.4h0M1183.9 276.4h0M1187.6 231.6h0M1191.3 278.6h0M1195 250.3h0M1198.7 256.7h0M1202.3 246.7h0M1206 297.2h0M1209.7 262.1h0M1213.4 259h0M1217.1 252.8h0M1220.8 283.6h0M1224.5 272h0M1228.1 289.2h0M1231.8 257.4h0M1235.5 261.8h0M1239.2 243.5h0M1242.9 273.4h0M1246.6 213h0M1250.3 239.8h0M1253.9 265.8h0M1257.6 285.5h0M1261.3 284.1h0M1265 275.3h0M1268.7 274.5h0M1272.4 246h0M1276.1 256.1h0M1279.7 281.2h0M1283.4 265.7h0M1287.1 274.9h0M1290.8 275.7h0M1294.5 279.9h0M1298.2 231h0M1301.8 261.5h0M1305.5 248.7h0M1309.2 244.7h0M1312.9 262.2h0" stroke="#1f77b4" stroke-width="7.6" stroke-linecap="round" fill="none"/>
<path d="M859.6 257.1h0M863.3 259.4h0M867 286.8h0M870.7 371.6h0M874.4 248.8h0M878 283.4h0M881.7 237.6h0M885.4 259.1h0M889.1 229h0M892.8 290.3h0M896.5 326.6h0M900.1 249.9h0M903.8 338.9h0M907.5 259.5h0M911.2 350.5h0M914.9 334h0M918.6 326.6h0M922.3 220.9h0M925.9 281.1h0M929.6 183.5h0M933.3 360.5h0M937 336.2h0M940.7 331.4h0M944.4 242.5h0M948.1 292.1h0M951.7 308.9h0M955.4 139.2h0M959.1 303.4h0M962.8 244.1h0M966.5 202.1h0M970.2 339.8h0M973.9 371.6h0M977.5 328.9h0M981.2 272.9h0M984.9 217.7h0M988.6 287.3h0M992.3 192.7h0M996 281.6h0M999.7 271.8h0M1003.3 246.2h0M1007 314.2h0M1010.7 288.5h0M1014.4 209.9h0M1018.1 253.5h0M1021.8 287.6h0M1025.4 312.2h0M1029.1 247h0M1032.8 233.7h0M1036.5 278.5h0M1040.2 269.9h0M1043.9 339.6h0M1047.6 264h0M1051.2 283.7h0M1054.9 236.1h0M1058.6 340.6h0M1062.3 234.1h0M1066 288.2h0M1069.7 283.7h0M1073.4 242.1h0M1077 268.8h0M1080.7 300.7h0M1084.4 219.7h0M1088.1 236.3h0M1091.8 230.6h0M1095.5 320.1h0M1099.2 266.7h0M1102.8 301.8h0M1106.5 221.3h0M1110.2 253.7h0M1113.9 241.9h0M1117.6 231.1h0M1121.3 219.6h0M1125 266.6h0M1128.6 240.8h0M1132.3 251.4h0M1136 236.3h0M1139.7 243.1h0M1143.4 220h0M1147.1 243.9h0M1150.7 270.5h0M1154.4 254.9h0M1158.1 286.6h0M1161.8 249.8h0M1165.5 220.6h0M1169.2 272.4h0M1172.9 297.2h0M1176.5 259.5h0M1180.2 269.3h0M1183.9 257.6h0M1187.6 270.9h0M1191.3 255.7h0M1195 279.8h0M1198.7 223.6h0M1202.3 262.2h0M1206 246.4h0M1209.7 209.1h0M1213.4 260.4h0M1217.1 248h0M1220.8 262.2h0M1224.5 266h0M1228.1 261.5h0M1231.8 247.7h0M1235.5 281.3h0M1239.2 274.2h0M1242.9 272h0M1246.6 267.4h0M1250.3 236h0M1253.9 257.6h0M1257.6 262.4h0M1261.3 254.4h0M1265 238.7h0M1268.7 291.3h0M1272.4 239.8h0M1276.1 242.5h0M1279.7 271.2h0M1283.4 233.2h0M1287.1 232.3h0M1290.8 253.7h0M1294.5 263.1h0M1298.2 244.2h0M1301.8 262.6h0M1305.5 234.2h0M1309.2 239.7h0M1312.9 245.8h0" stroke="#ff7f0e" stroke-width="7.6" stroke-linecap="round" fill="none"/>
<path d="M859.6 241.2h0M863.3 349.4h0M867 170.1h0M870.7 295.1h0M874.4 348.8h0M878 355.2h0M881.7 446.4h0M885.4 181.7h0M889.1 218.2h0M892.8 421.6h0M896.5 180.4h0M900.1 241.1h0M903.8 211.6h0M907.5 262h0M911.2 189.6h0M914.9 261.2h0M918.6 261.6h0M922.3 329.6h0M925.9 200.4h0M929.6 251.6h0M933.3 337.2h0M937 244.1h0M940.7 282.9h0M944.4 268.2h0M948.1 342.3h0M951.7 249.6h0M955.4 248.8h0M959.1 277.9h0M962.8 246.2h0M966.5 191.5h0M970.2 393.6h0M973.9 319h0M977.5 280.1h0M981.2 172.6h0M984.9 284.1h0M988.6 319h0M992.3 292h0M996 185.7h0M999.7 206.7h0M1003.3 265.2h0M1007 291.2h0M1010.7 285.4h0M1014.4 323.1h0M1018.1 330.4h0M1021.8 214.8h0M1025.4 209.3h0M1029.1 256.9h0M1032.8 245.6h0M1036.5 185.7h0M1040.2 195.6h0M1043.9 231.8h0M1047.6 300.2h0M1051.2 277.4h0M1054.9 265.8h0M1058.6 272.6h0M1062.3 297h0M1066 243.9h0M1069.7 231.8h0M1073.4 266.8h0M1077 273.1h0M1080.7 267.8h0M1084.4 215.4h0M1088.1 249.4h0M1091.8 280.9h0M1095.5 299.4h0M1099.2 271.7h0M1102.8 287.1h0M1106.5 271.4h0M1110.2 217.1h0M1113.9 237.6h0M1117.6 251.5h0M1121.3 246.4h0M1125 208.7h0M1128.6 290h0M1132.3 245.5h0M1136 263.4h0M1139.7 202.9h0M1143.4 255.7h0M1147.1 265.9h0M1150.7 243.6h0M1154.4 271.9h0M1158.1 250.2h0M1161.8 306.6h0M1165.5 280.6h0M1169.2 280.8h0M1172.9 240.6h0M1176.5 278.1h0M1180.2 265.9h0M1183.9 274.7h0M1187.6 270.8h0M1191.3 271.9h0M1195 233.6h0M1198.7 265.1h0M1202.3 272.4h0M1206 249h0M1209.7 258.6h0M1213.4 229.4h0M1217.1 243h0M1220.8 234.5h0M1224.5 234h0M1228.1 240.6h0M1231.8 256.2h0M1235.5 304.2h0M1239.2 286.5h0M1242.9 240.5h0M1246.6 217.8h0M1250.3 251.4h0M1253.9 280.3h0M1257.6 233.5h0M1261.3 268.4h0M1265 246.1h0M1268.7 307.6h0M1272.4 259.7h0M1276.1 267.2h0M1279.7 269.2h0M1283.4 295.9h0M1287.1 229h0M1290.8 257.2h0M1294.5 251.5h0M1298.2 251.2h0M1301.8 277.4h0M1305.5 234.8h0M1309.2 261.8h0M1312.9 265.2h0" stroke="#2ca02c" stroke-width="7.6" stroke-linecap="round" fill="none"/>
<path d="M857.8 263.9 L861.6 264.3 L865.4 264.7 L869.3 265 L873.1 265.3 L877 265.6 L880.8 265.8 L884.6 266.1 L888.5 266.3 L892.3 266.4 L896.2 266.6 L900 266.7 L903.8 266.8 L907.7 266.9 L911.5 267 L915.4 267.1 L919.2 267.1 L923 267.1 L926.9 267.1 L930.7 267.1 L934.6 267.1 L938.4 267 L942.3 266.9 L946.1 266.9 L949.9 266.8 L953.8 266.7 L957.6 266.6 L961.5 266.4 L965.3 266.3 L969.1 266.1 L973 266 L976.8 265.8 L980.7 265.6 L984.5 265.5 L988.3 265.3 L992.2 265.1 L996 264.9 L999.9 264.7 L1003.7 264.5 L1007.5 264.2 L1011.4 264 L1015.2 263.8 L1019.1 263.6 L1022.9 263.4 L1026.7 263.2 L1030.6 262.9 L1034.4 262.7 L1038.3 262.5 L1042.1 262.3 L1045.9 262.1 L1049.8 261.9 L1053.6 261.7 L1057.5 261.5 L1061.3 261.3 L1065.1 261.1 L1069 261 L1072.8 260.8 L1076.7 260.6 L1080.5 260.5 L1084.3 260.3 L1088.2 260.2 L1092 260 L1095.9 259.9 L1099.7 259.8 L1103.5 259.6 L1107.4 259.5 L1111.2 259.4 L1115.1 259.3 L1118.9 259.2 L1122.7 259.1 L1126.6 259 L1130.4 258.9 L1134.3 258.8 L1138.1 258.7 L1141.9 258.6 L1145.8 258.5 L1149.6 258.5 L1153.5 258.4 L1157.3 258.3 L1161.1 258.3 L1165 258.2 L1168.8 258.1 L1172.7 258.1 L1176.5 258 L1180.3 258 L1184.2 257.9 L1188 257.9 L1191.9 257.8 L1195.7 257.8 L1199.5 257.8 L1203.4 257.7 L1207.2 257.7 L1211.1 257.7 L1214.9 257.6 L1218.7 257.6 L1222.6 257.6 L1226.4 257.5 L1230.3 257.5 L1234.1 257.5 L1237.9 257.4 L1241.8 257.4 L1245.6 257.4 L1249.5 257.4 L1253.3 257.4 L1257.1 257.3 L1261 257.3 L1264.8 257.3 L1268.7 257.3 L1272.5 257.2 L1276.3 257.2 L1280.2 257.2 L1284 257.2 L1287.9 257.1 L1291.7 257.1 L1295.5 257.1 L1299.4 257 L1303.2 257 L1307.1 257 L1310.9 257 L1314.7 256.9" stroke="#000" stroke-width="2.85" fill="none" stroke-linejoin="round"/>
</g>
<g clip-path="url(#cb1)">
<path d="M859.5 560.7V606.3M863.5 578.3V623.8M866.5 622.3V667.9M870.5 538.7V584.3M874.5 554.3V599.8M878.5 611.2V656.8M881.5 598V643.6M885.5 548.6V594.1M889.5 623.5V669.1M892.5 564.8V610.4M896.5 571.2V616.8M900.5 546.7V592.3M903.5 639.8V685.4M907.5 561.5V607M911.5 546.5V592.1M914.5 573.5V619M918.5 579.4V625M922.5 600V645.6M925.5 557V602.6M929.5 568V613.6M933.5 582.5V628.1M937.5 587.5V633.1M940.5 619.5V665.1M944.5 618.4V663.9M948.5 632.9V678.5M951.5 643.8V689.4M955.5 576V621.6M959.5 573.4V619M962.5 574V619.6M966.5 566.1V611.7M970.5 607.6V653.1M973.5 599.8V645.4M977.5 586.7V632.3M981.5 541.8V587.4M984.5 615.8V661.4M988.5 607.9V653.5M992.5 589.4V635M995.5 579.2V624.8M999.5 588.3V633.9M1003.5 586V631.6M1007.5 603.3V648.9M1010.5 604.2V649.8M1014.5 541.7V587.2M1018.5 589V634.6M1021.5 540.7V586.3M1025.5 566.4V612M1029.5 626.6V672.2M1032.5 558.8V604.3M1036.5 578.5V624.1M1040.5 588.9V634.5M1043.5 581.2V626.7M1047.5 583.7V629.3M1051.5 555.9V601.5M1054.5 634.7V680.2M1058.5 573.2V618.8M1062.5 588.4V634M1065.5 556.5V602.1M1069.5 577V622.6M1073.5 578.1V623.7M1077.5 586.1V631.7M1080.5 587.9V633.5M1084.5 568.8V614.4M1088.5 588.1V633.7M1091.5 602.1V647.7M1095.5 571.6V617.2M1099.5 586.4V632M1102.5 605.4V650.9M1106.5 608.4V654M1110.5 561.2V606.8M1113.5 573.4V619M1117.5 573V618.6M1121.5 599.8V645.3M1124.5 604.7V650.3M1128.5 578.6V624.1M1132.5 556.3V601.9M1136.5 574.2V619.7M1139.5 577.9V623.5M1143.5 544.8V590.3M1147.5 604.7V650.3M1150.5 616.2V661.8M1154.5 604.7V650.3M1158.5 595V640.6M1161.5 579.3V624.8M1165.5 564.5V610M1169.5 578.5V624.1M1172.5 543.5V589.1M1176.5 606.6V652.2M1180.5 581.3V626.9M1183.5 606.3V651.8M1187.5 561.1V606.7M1191.5 609.1V654.7M1194.5 579.9V625.5M1198.5 586.6V632.2M1202.5 576V621.5M1206.5 630.6V676.2M1209.5 592.6V638.2M1213.5 589.3V634.9M1217.5 582.3V627.9M1220.5 617.5V663.1M1224.5 604.4V650M1228.5 624.8V670.4M1231.5 587.6V633.2M1235.5 593V638.5M1239.5 570.9V616.4M1242.5 607.5V653.1M1246.5 532.4V578M1250.5 565.5V611.1M1253.5 598.6V644.2M1257.5 624.4V670M1261.5 623.1V668.7M1264.5 611.8V657.4M1268.5 611V656.6M1272.5 572.4V617.9M1276.5 586.1V631.7M1279.5 621.7V667.3M1283.5 600.1V645.6M1287.5 613.7V659.3M1290.5 615.3V660.9M1294.5 622.1V667.7M1298.5 547.9V593.5M1301.5 594.8V640.3M1305.5 574.6V620.2M1309.5 568V613.5M1312.5 596.5V642.1" stroke="#1f77b4" stroke-width="2.75" fill="none"/>
<path d="M859.5 585.2V630.8M863.5 585.9V631.5M866.5 595.6V641.2M870.5 625.4V671M874.5 581.9V627.5M878.5 594V639.6M881.5 577.9V623.5M885.5 585.3V630.9M889.5 574.7V620.3M892.5 596.1V641.7M896.5 608.8V654.3M900.5 581.8V627.4M903.5 613.2V658.8M907.5 585.1V630.7M911.5 617.6V663.2M914.5 611.8V657.4M918.5 609.3V654.9M922.5 570.9V616.5M925.5 592.9V638.5M929.5 556.6V602.2M933.5 622.9V668.5M937.5 614V659.6M940.5 612.5V658.1M944.5 578.3V623.8M948.5 597.7V643.3M951.5 604.5V650.1M955.5 536.4V582M959.5 602.8V648.4M962.5 578.5V624.1M966.5 560.9V606.5M970.5 619.1V664.7M973.5 633.3V678.8M977.5 615.4V660.9M981.5 591V636.6M984.5 566.3V611.8M988.5 597.8V643.4M992.5 554.1V599.7M995.5 595.6V641.2M999.5 591.2V636.8M1003.5 578.9V624.5M1007.5 612.4V658M1010.5 600V645.6M1014.5 560.2V605.8M1018.5 582.5V628.1M1021.5 600.5V646.1M1025.5 613.9V659.5M1029.5 579.1V624.6M1032.5 571.7V617.3M1036.5 596.6V642.2M1040.5 592V637.6M1043.5 632.3V677.9M1047.5 588.9V634.5M1051.5 600.7V646.3M1054.5 572.4V618M1058.5 636.1V681.7M1062.5 570.9V616.5M1065.5 604.8V650.4M1069.5 602.3V647.9M1073.5 575.7V621.2M1077.5 593.2V638.7M1080.5 614.6V660.2M1084.5 560.3V605.9M1088.5 571.4V617M1091.5 567.3V612.9M1095.5 630.3V675.8M1099.5 592.7V638.3M1102.5 618.4V663.9M1106.5 559.6V605.2M1110.5 583.4V629M1113.5 574.5V620.1M1117.5 566.1V611.7M1121.5 556.8V602.4M1124.5 593.8V639.4M1128.5 573.1V618.7M1132.5 581.6V627.2M1136.5 569.1V614.7M1139.5 574.7V620.2M1143.5 554.8V600.3M1147.5 575.1V620.7M1150.5 598.4V644M1154.5 584.6V630.2M1158.5 613.4V659M1161.5 580V625.6M1165.5 552.7V598.3M1169.5 601.2V646.8M1172.5 625.3V670.8M1176.5 589.2V634.8M1180.5 599V644.5M1183.5 587.4V633M1187.5 600.9V646.5M1191.5 585.6V631.1M1194.5 610.7V656.3M1198.5 551.7V597.3M1202.5 592.5V638.1M1206.5 575.6V621.1M1209.5 534.4V580M1213.5 590.8V636.4M1217.5 576.9V622.5M1220.5 593V638.6M1224.5 597.6V643.2M1228.5 592.5V638M1231.5 576.1V621.7M1235.5 616.4V662M1239.5 608.1V653.7M1242.5 605.7V651.3M1246.5 600.3V645.9M1250.5 560.8V606.4M1253.5 588V633.6M1257.5 594.3V639.9M1261.5 584V629.6M1264.5 563V608.6M1268.5 633.8V679.4M1272.5 563.8V609.4M1276.5 567.2V612.8M1279.5 607.6V653.1M1283.5 553.4V599M1287.5 551.5V597.1M1290.5 582.7V628.3M1294.5 596.8V642.4M1298.5 568.1V613.7M1301.5 596.4V642M1305.5 551.5V597.1M1309.5 559.9V605.4M1312.5 569.3V614.9" stroke="#ff7f0e" stroke-width="2.75" fill="none"/>
<path d="M859.5 579.4V625M863.5 618.3V663.8M866.5 554V599.6M870.5 598.4V643.9M874.5 617.1V662.7M878.5 619.1V664.7M881.5 650.7V696.3M885.5 558.3V603.9M889.5 571V616.6M892.5 641.9V687.5M896.5 557.6V603.2M900.5 578.8V624.3M903.5 568.2V613.8M907.5 586V631.6M911.5 560.1V605.7M914.5 585.6V631.2M918.5 585.8V631.3M922.5 610.6V656.2M925.5 563.1V608.7M929.5 582V627.6M933.5 614.1V659.7M937.5 579V624.6M940.5 593.9V639.5M944.5 588.3V633.9M948.5 617.4V663M951.5 580.9V626.5M955.5 580.6V626.2M959.5 592.4V638M962.5 579.4V625M966.5 556.4V602M970.5 641.9V687.5M973.5 610.6V656.2M977.5 594V639.6M981.5 546.5V592.1M984.5 596.2V641.8M988.5 612.3V657.9M992.5 600.3V645.8M995.5 550.4V596M999.5 560V605.5M1003.5 588.1V633.7M1007.5 601.1V646.6M1010.5 598.5V644.1M1014.5 618V663.6M1018.5 622.4V668M1021.5 562.2V607.8M1025.5 558.9V604.5M1029.5 584.4V630M1032.5 578.3V623.9M1036.5 544.7V590.3M1040.5 549.9V595.4M1043.5 570.3V615.8M1047.5 610.1V655.6M1051.5 597V642.6M1054.5 590.3V635.8M1058.5 594.6V640.2M1062.5 609.9V655.5M1065.5 577V622.5M1069.5 569.2V614.7M1073.5 591.6V637.2M1077.5 596V641.6M1080.5 592.6V638.2M1084.5 557.4V603M1088.5 580.4V626M1091.5 602.3V647.9M1095.5 615.6V661.2M1099.5 596.3V641.9M1102.5 607.7V653.3M1106.5 596.5V642.1M1110.5 556.1V601.7M1113.5 571.2V616.8M1117.5 581.8V627.4M1121.5 577.8V623.4M1124.5 547.8V593.4M1128.5 612.8V658.4M1132.5 576.8V622.4M1136.5 591.6V637.2M1139.5 540.8V586.4M1143.5 585.3V630.9M1147.5 594.2V639.8M1150.5 574.7V620.2M1154.5 599.9V645.5M1158.5 580.4V626M1161.5 632.2V677.8M1165.5 608.6V654.2M1169.5 609.1V654.7M1172.5 571V616.6M1176.5 607.3V652.9M1180.5 595.5V641.1M1183.5 604.5V650.1M1187.5 600.8V646.4M1191.5 602.2V647.8M1194.5 562.6V608.1M1198.5 595.5V641.1M1202.5 603.5V649M1206.5 578.4V624M1209.5 588.8V634.4M1213.5 556.4V602M1217.5 571.3V616.9M1220.5 561.4V607M1224.5 560.6V606.1M1228.5 568V613.6M1231.5 586.3V631.8M1235.5 643.8V689.4M1239.5 623.1V668.7M1242.5 566.9V612.5M1246.5 538.3V583.9M1250.5 580.2V625.8M1253.5 617.2V662.8M1257.5 556.8V602.4M1261.5 602.3V647.9M1264.5 572.9V618.4M1268.5 655.9V701.5M1272.5 591.1V636.7M1276.5 601.7V647.3M1279.5 604.7V650.3M1283.5 643.4V688.9M1287.5 546.8V592.4M1290.5 587.9V633.5M1294.5 579.4V625M1298.5 578.8V624.3M1301.5 619.5V665.1M1305.5 552.5V598M1309.5 595.5V641.1M1312.5 601.4V646.9" stroke="#2ca02c" stroke-width="2.75" fill="none"/>
<path d="M811.7 610.55H1364.5" stroke="#000" stroke-width="2.5"/>
<path d="M859.6 583.5h0M863.3 601.1h0M867 645.1h0M870.7 561.5h0M874.4 577.1h0M878 634h0M881.7 620.8h0M885.4 571.3h0M889.1 646.3h0M892.8 587.6h0M896.5 594h0M900.1 569.5h0M903.8 662.6h0M907.5 584.3h0M911.2 569.3h0M914.9 596.3h0M918.6 602.2h0M922.3 622.8h0M925.9 579.8h0M929.6 590.8h0M933.3 605.3h0M937 610.3h0M940.7 642.3h0M944.4 641.1h0M948.1 655.7h0M951.7 666.6h0M955.4 598.8h0M959.1 596.2h0M962.8 596.8h0M966.5 588.9h0M970.2 630.3h0M973.9 622.6h0M977.5 609.5h0M981.2 564.6h0M984.9 638.6h0M988.6 630.7h0M992.3 612.2h0M996 602h0M999.7 611.1h0M1003.3 608.8h0M1007 626.1h0M1010.7 627h0M1014.4 564.5h0M1018.1 611.8h0M1021.8 563.5h0M1025.4 589.2h0M1029.1 649.4h0M1032.8 581.5h0M1036.5 601.3h0M1040.2 611.7h0M1043.9 604h0M1047.6 606.5h0M1051.2 578.7h0M1054.9 657.5h0M1058.6 596h0M1062.3 611.2h0M1066 579.3h0M1069.7 599.8h0M1073.4 600.9h0M1077 608.9h0M1080.7 610.7h0M1084.4 591.6h0M1088.1 610.9h0M1091.8 624.9h0M1095.5 594.4h0M1099.2 609.2h0M1102.8 628.2h0M1106.5 631.2h0M1110.2 584h0M1113.9 596.2h0M1117.6 595.8h0M1121.3 622.6h0M1125 627.5h0M1128.6 601.3h0M1132.3 579.1h0M1136 597h0M1139.7 600.7h0M1143.4 567.5h0M1147.1 627.5h0M1150.7 639h0M1154.4 627.5h0M1158.1 617.8h0M1161.8 602h0M1165.5 587.3h0M1169.2 601.3h0M1172.9 566.3h0M1176.5 629.4h0M1180.2 604.1h0M1183.9 629.1h0M1187.6 583.9h0M1191.3 631.9h0M1195 602.7h0M1198.7 609.4h0M1202.3 598.8h0M1206 653.4h0M1209.7 615.4h0M1213.4 612.1h0M1217.1 605.1h0M1220.8 640.3h0M1224.5 627.2h0M1228.1 647.6h0M1231.8 610.4h0M1235.5 615.8h0M1239.2 593.7h0M1242.9 630.3h0M1246.6 555.2h0M1250.3 588.3h0M1253.9 621.4h0M1257.6 647.2h0M1261.3 645.9h0M1265 634.6h0M1268.7 633.8h0M1272.4 595.1h0M1276.1 608.9h0M1279.7 644.5h0M1283.4 622.9h0M1287.1 636.5h0M1290.8 638.1h0M1294.5 644.9h0M1298.2 570.7h0M1301.8 617.6h0M1305.5 597.4h0M1309.2 590.8h0M1312.9 619.3h0" stroke="#1f77b4" stroke-width="7.6" stroke-linecap="round" fill="none"/>
<path d="M859.6 608h0M863.3 608.7h0M867 618.4h0M870.7 648.2h0M874.4 604.7h0M878 616.8h0M881.7 600.7h0M885.4 608.1h0M889.1 597.5h0M892.8 618.9h0M896.5 631.6h0M900.1 604.6h0M903.8 636h0M907.5 607.9h0M911.2 640.4h0M914.9 634.6h0M918.6 632.1h0M922.3 593.7h0M925.9 615.7h0M929.6 579.4h0M933.3 645.7h0M937 636.8h0M940.7 635.3h0M944.4 601.1h0M948.1 620.5h0M951.7 627.3h0M955.4 559.2h0M959.1 625.6h0M962.8 601.3h0M966.5 583.7h0M970.2 641.9h0M973.9 656.1h0M977.5 638.2h0M981.2 613.8h0M984.9 589.1h0M988.6 620.6h0M992.3 576.9h0M996 618.4h0M999.7 614h0M1003.3 601.7h0M1007 635.2h0M1010.7 622.8h0M1014.4 583h0M1018.1 605.3h0M1021.8 623.3h0M1025.4 636.7h0M1029.1 601.8h0M1032.8 594.5h0M1036.5 619.4h0M1040.2 614.8h0M1043.9 655.1h0M1047.6 611.7h0M1051.2 623.5h0M1054.9 595.2h0M1058.6 658.9h0M1062.3 593.7h0M1066 627.6h0M1069.7 625.1h0M1073.4 598.5h0M1077 616h0M1080.7 637.4h0M1084.4 583.1h0M1088.1 594.2h0M1091.8 590.1h0M1095.5 653.1h0M1099.2 615.5h0M1102.8 641.2h0M1106.5 582.4h0M1110.2 606.2h0M1113.9 597.3h0M1117.6 588.9h0M1121.3 579.6h0M1125 616.6h0M1128.6 595.9h0M1132.3 604.4h0M1136 591.9h0M1139.7 597.5h0M1143.4 577.6h0M1147.1 597.9h0M1150.7 621.2h0M1154.4 607.4h0M1158.1 636.2h0M1161.8 602.8h0M1165.5 575.5h0M1169.2 624h0M1172.9 648h0M1176.5 612h0M1180.2 621.7h0M1183.9 610.2h0M1187.6 623.7h0M1191.3 608.3h0M1195 633.5h0M1198.7 574.5h0M1202.3 615.3h0M1206 598.3h0M1209.7 557.2h0M1213.4 613.6h0M1217.1 599.7h0M1220.8 615.8h0M1224.5 620.4h0M1228.1 615.2h0M1231.8 598.9h0M1235.5 639.2h0M1239.2 630.9h0M1242.9 628.5h0M1246.6 623.1h0M1250.3 583.6h0M1253.9 610.8h0M1257.6 617.1h0M1261.3 606.8h0M1265 585.8h0M1268.7 656.6h0M1272.4 586.6h0M1276.1 590h0M1279.7 630.3h0M1283.4 576.2h0M1287.1 574.3h0M1290.8 605.5h0M1294.5 619.6h0M1298.2 590.9h0M1301.8 619.2h0M1305.5 574.3h0M1309.2 582.6h0M1312.9 592.1h0" stroke="#ff7f0e" stroke-width="7.6" stroke-linecap="round" fill="none"/>
<path d="M859.6 602.2h0M863.3 641h0M867 576.8h0M870.7 621.1h0M874.4 639.9h0M878 641.9h0M881.7 673.5h0M885.4 581.1h0M889.1 593.8h0M892.8 664.7h0M896.5 580.4h0M900.1 601.6h0M903.8 591h0M907.5 608.8h0M911.2 582.9h0M914.9 608.4h0M918.6 608.5h0M922.3 633.4h0M925.9 585.9h0M929.6 604.8h0M933.3 636.9h0M937 601.8h0M940.7 616.7h0M944.4 611.1h0M948.1 640.2h0M951.7 603.7h0M955.4 603.4h0M959.1 615.2h0M962.8 602.2h0M966.5 579.2h0M970.2 664.7h0M973.9 633.4h0M977.5 616.8h0M981.2 569.3h0M984.9 619h0M988.6 635.1h0M992.3 623h0M996 573.2h0M999.7 582.8h0M1003.3 610.9h0M1007 623.9h0M1010.7 621.3h0M1014.4 640.8h0M1018.1 645.2h0M1021.8 585h0M1025.4 581.7h0M1029.1 607.2h0M1032.8 601.1h0M1036.5 567.5h0M1040.2 572.6h0M1043.9 593h0M1047.6 632.8h0M1051.2 619.8h0M1054.9 613.1h0M1058.6 617.4h0M1062.3 632.7h0M1066 599.7h0M1069.7 592h0M1073.4 614.4h0M1077 618.8h0M1080.7 615.4h0M1084.4 580.2h0M1088.1 603.2h0M1091.8 625.1h0M1095.5 638.4h0M1099.2 619.1h0M1102.8 630.5h0M1106.5 619.3h0M1110.2 578.9h0M1113.9 594h0M1117.6 604.6h0M1121.3 600.6h0M1125 570.6h0M1128.6 635.6h0M1132.3 599.6h0M1136 614.4h0M1139.7 563.6h0M1143.4 608.1h0M1147.1 617h0M1150.7 597.4h0M1154.4 622.7h0M1158.1 603.2h0M1161.8 655h0M1165.5 631.4h0M1169.2 631.9h0M1172.9 593.8h0M1176.5 630.1h0M1180.2 618.3h0M1183.9 627.3h0M1187.6 623.6h0M1191.3 625h0M1195 585.4h0M1198.7 618.3h0M1202.3 626.2h0M1206 601.2h0M1209.7 611.6h0M1213.4 579.2h0M1217.1 594.1h0M1220.8 584.2h0M1224.5 583.3h0M1228.1 590.8h0M1231.8 609.1h0M1235.5 666.6h0M1239.2 645.9h0M1242.9 589.7h0M1246.6 561.1h0M1250.3 603h0M1253.9 640h0M1257.6 579.6h0M1261.3 625.1h0M1265 595.7h0M1268.7 678.7h0M1272.4 613.9h0M1276.1 624.5h0M1279.7 627.5h0M1283.4 666.2h0M1287.1 569.6h0M1290.8 610.7h0M1294.5 602.2h0M1298.2 601.5h0M1301.8 642.3h0M1305.5 575.2h0M1309.2 618.3h0M1312.9 624.1h0" stroke="#2ca02c" stroke-width="7.6" stroke-linecap="round" fill="none"/>
</g>
<g clip-path="url(#ct2)">
<path d="M1563.5 270.4V408.5M1567.5 156.7V296.3M1570.5 255.5V396.4M1574.5 322.6V464.5M1578.5 280.8V423.6M1582.5 106V249.3M1585.5 277V420.7M1589.5 145V288.9M1593.5 124.4V268.2M1596.5 125.2V268.8M1600.5 279.4V422.7M1604.5 329.4V472.2M1607.5 132.9V275M1611.5 66.5V207.8M1615.5 228V368.4M1618.5 113.9V253.4M1622.5 65.6V203.9M1626.5 117.1V254.3M1629.5 272.1V408.1M1633.5 241.8V376.6M1637.5 114.2V247.5M1641.5 175V307M1644.5 195.4V325.9M1648.5 118.6V247.7M1652.5 192.9V320.5M1655.5 128.7V254.7M1659.5 170.3V294.8M1663.5 268.2V391.1M1666.5 286.3V407.7M1670.5 202.3V322M1674.5 171.9V289.9M1677.5 208.2V324.7M1681.5 325V439.8M1685.5 199.6V312.7M1688.5 195.3V306.7M1692.5 159.5V269.2M1696.5 228V336M1699.5 250.1V356.5M1703.5 251.9V356.6M1707.5 111.9V214.9M1711.5 218.7V320.1M1714.5 260.8V360.6M1718.5 161.8V260.1M1722.5 248.9V345.7M1725.5 223.2V318.5M1729.5 303V396.8M1733.5 174.5V267M1736.5 292.7V383.7M1740.5 206.3V296M1744.5 201V289.3M1747.5 199.5V286.6M1751.5 294V379.8M1755.5 308.4V393M1758.5 244.9V328.2M1762.5 258.6V340.7M1766.5 249.7V330.7M1769.5 225.3V305.1M1773.5 267.1V345.7M1777.5 305.2V382.7M1781.5 279.3V355.7M1784.5 245.9V321.2M1788.5 323.1V397.3M1792.5 280.4V353.5M1795.5 296.2V368.3M1799.5 221.8V292.9M1803.5 226.9V296.9M1806.5 324V393M1810.5 295.1V363.1M1814.5 279.8V346.8M1817.5 249.1V315.2M1821.5 298.1V363.1M1825.5 263.9V328M1828.5 242.2V305.3M1832.5 306.4V368.6M1836.5 298.6V360M1840.5 260.6V321M1843.5 288.2V347.8M1847.5 339.7V398.4M1851.5 335.3V393.2M1854.5 331.9V388.9M1858.5 343.3V399.5M1862.5 379.8V435.2M1865.5 319.4V374M1869.5 305V358.8M1873.5 288.2V341.2M1876.5 261V313.3M1880.5 303V354.5M1884.5 356.8V407.7M1887.5 378.4V428.6M1891.5 313.8V363.3M1895.5 283.1V331.9M1898.5 323.1V371.3M1902.5 305.7V353.3M1906.5 316.8V363.7M1910.5 314.9V361.2M1913.5 285.7V331.4M1917.5 330.4V375.5M1921.5 312.5V357.1M1924.5 311.9V355.9M1928.5 325.8V369.2M1932.5 318.4V361.2M1935.5 269.5V311.8M1939.5 295.8V337.6M1943.5 350.7V391.9M1946.5 329.5V370.3M1950.5 312.1V352.3M1954.5 304.1V343.8M1957.5 305.5V344.7M1961.5 310.7V349.4M1965.5 329.7V367.8M1968.5 300.4V338M1972.5 328.8V365.8M1976.5 303.8V340.4M1980.5 298.9V334.9M1983.5 342.3V377.8M1987.5 336V370.9M1991.5 326.4V360.9M1994.5 366.5V400.4M1998.5 313.8V347.2M2002.5 311.7V344.5M2005.5 315.8V348M2009.5 337.2V368.8M2013.5 307.1V338M2016.5 338.5V368.9" stroke="#1f77b4" stroke-width="2.75" fill="none"/>
<path d="M1563.5 288.6V426.8M1567.5 288.1V427.8M1570.5 135.8V276.7M1574.5 261V403M1578.5 224.1V366.8M1582.5 95.8V239.1M1585.5 116.5V260.2M1589.5 182.5V326.4M1593.5 189.6V333.4M1596.5 205.5V349.2M1600.5 128.9V272.2M1604.5 229.7V372.5M1607.5 164.3V306.4M1611.5 109.9V251.2M1615.5 201.3V341.7M1618.5 234.5V374M1622.5 260.8V399.2M1626.5 134.3V271.5M1629.5 185.7V321.7M1633.5 241.4V376.1M1637.5 246.5V379.9M1641.5 189V321M1644.5 257.1V387.7M1648.5 217.4V346.5M1652.5 133.2V260.8M1655.5 204.5V330.6M1659.5 199.7V324.2M1663.5 230.5V353.4M1666.5 284V405.3M1670.5 299.4V419.1M1674.5 199.2V317.3M1677.5 271.4V387.9M1681.5 146.4V261.2M1685.5 360.9V474M1688.5 131.4V242.8M1692.5 141.1V250.8M1696.5 220V328M1699.5 165.5V271.8M1703.5 206.1V310.8M1707.5 267.2V370.3M1711.5 146.3V247.7M1714.5 220.9V320.8M1718.5 181.1V279.4M1722.5 223.8V320.6M1725.5 232V327.3M1729.5 247.8V341.7M1733.5 210.7V303.2M1736.5 206.5V297.6M1740.5 289.7V379.4M1744.5 232.8V321.2M1747.5 107.8V194.9M1751.5 205.3V291.2M1755.5 204V288.6M1758.5 217V300.3M1762.5 292.2V374.3M1766.5 233.6V314.5M1769.5 339.8V419.6M1773.5 266.8V345.4M1777.5 241.2V318.7M1781.5 324.3V400.7M1784.5 229.8V305.1M1788.5 369.6V443.8M1792.5 330.8V403.9M1795.5 291.7V363.8M1799.5 288.7V359.8M1803.5 343V413M1806.5 263.3V332.3M1810.5 292.6V360.6M1814.5 233.1V300.1M1817.5 312.5V378.5M1821.5 338.5V403.5M1825.5 285.1V349.3M1828.5 287.3V350.5M1832.5 309.4V371.7M1836.5 327.9V389.3M1840.5 343.9V404.3M1843.5 318.7V378.3M1847.5 289.9V348.6M1851.5 283.5V341.3M1854.5 322.1V379.1M1858.5 311.5V367.7M1862.5 287.6V343M1865.5 273.9V328.5M1869.5 320.5V374.3M1873.5 302V355M1876.5 335.9V388.2M1880.5 332.1V383.7M1884.5 297V347.9M1887.5 309V359.2M1891.5 314.1V363.5M1895.5 270.9V319.7M1898.5 317.9V366.1M1902.5 337.7V385.2M1906.5 307.4V354.3M1910.5 308.2V354.5M1913.5 339.8V385.5M1917.5 291.7V336.8M1921.5 277V321.5M1924.5 328.5V372.5M1928.5 335.1V378.5M1932.5 318.5V361.4M1935.5 291V333.3M1939.5 329.7V371.5M1943.5 375.4V416.6M1946.5 331.1V371.8M1950.5 314.7V354.9M1954.5 315.9V355.5M1957.5 324V363.1M1961.5 372.9V411.5M1965.5 331.3V369.4M1968.5 333.1V370.7M1972.5 303.5V340.6M1976.5 318.3V354.9M1980.5 319.6V355.6M1983.5 340V375.5M1987.5 330.9V365.9M1991.5 323.6V358M1994.5 350.1V384M1998.5 330V363.3M2002.5 315.3V348.1M2005.5 350.9V383.1M2009.5 326.1V357.7M2013.5 301.1V332M2016.5 338.4V368.8" stroke="#ff7f0e" stroke-width="2.75" fill="none"/>
<path d="M1563.5 199.1V337.3M1567.5 240.3V379.9M1570.5 204.1V345M1574.5 257.8V399.8M1578.5 173.3V316M1582.5 225.5V368.9M1585.5 203.9V347.6M1589.5 186V329.9M1593.5 297.3V441.2M1596.5 251.4V395M1600.5 294.7V438M1604.5 202.1V344.9M1607.5 282.5V424.6M1611.5 91.3V232.6M1615.5 202.2V342.7M1618.5 243.8V383.2M1622.5 163.4V301.8M1626.5 166.9V304.2M1629.5 255.1V391.1M1633.5 169.7V304.4M1637.5 258.3V391.7M1641.5 147.6V279.6M1644.5 284.6V415.2M1648.5 196.7V325.8M1652.5 140V267.6M1655.5 133V259.1M1659.5 170.4V294.9M1663.5 163.9V286.8M1666.5 191.6V312.9M1670.5 188.6V308.3M1674.5 154.3V272.4M1677.5 259.9V376.3M1681.5 164V278.8M1685.5 186V299.1M1688.5 185V296.4M1692.5 277.1V386.9M1696.5 258V366.1M1699.5 154V260.3M1703.5 173.2V277.9M1707.5 223.2V326.3M1711.5 167V268.4M1714.5 211.6V311.4M1718.5 248.1V346.4M1722.5 328.2V424.9M1725.5 186V281.3M1729.5 243.8V337.6M1733.5 229.7V322.1M1736.5 337.2V428.3M1740.5 271V360.7M1744.5 236.9V325.3M1747.5 263.6V350.7M1751.5 287.2V373.1M1755.5 305.4V390M1758.5 252.8V336.2M1762.5 279.1V361.2M1766.5 280.2V361.2M1769.5 280.6V360.4M1773.5 296.6V375.2M1777.5 286.2V363.7M1781.5 298.9V375.3M1784.5 276.4V351.7M1788.5 329.9V404.2M1792.5 220.6V293.8M1795.5 298.4V370.5M1799.5 319.6V390.6M1803.5 254.3V324.3M1806.5 296.4V365.4M1810.5 288.1V356.1M1814.5 302.3V369.3M1817.5 392.2V458.3M1821.5 263.5V328.5M1825.5 326.2V390.3M1828.5 349.9V413.1M1832.5 318V380.3M1836.5 294.5V355.8M1840.5 307.8V368.2M1843.5 303.8V363.4M1847.5 292.3V351M1851.5 326.9V384.7M1854.5 272.3V329.3M1858.5 308.4V364.6M1862.5 323.3V378.7M1865.5 275.1V329.7M1869.5 321.4V375.3M1873.5 287.5V340.6M1876.5 302.6V354.9M1880.5 298.6V350.2M1884.5 283.6V334.5M1887.5 346.7V396.8M1891.5 280V329.5M1895.5 332.6V381.4M1898.5 339.3V387.5M1902.5 321.2V368.7M1906.5 318.2V365.1M1910.5 298.8V345.1M1913.5 314.8V360.5M1917.5 264.2V309.3M1921.5 354.4V398.9M1924.5 318.4V362.4M1928.5 306.5V349.9M1932.5 282.2V325.1M1935.5 302.5V344.8M1939.5 317.7V359.4M1943.5 344.4V385.6M1946.5 320.9V361.6M1950.5 321.2V361.3M1954.5 324.6V364.2M1957.5 319.3V358.4M1961.5 313.1V351.8M1965.5 314.9V353M1968.5 314.9V352.5M1972.5 342.4V379.5M1976.5 353.4V390M1980.5 318.4V354.4M1983.5 347.6V383.1M1987.5 330.1V365.1M1991.5 328.4V362.8M1994.5 341.2V375.1M1998.5 314.9V348.2M2002.5 318.1V350.9M2005.5 326.9V359.1M2009.5 320.1V351.7M2013.5 316.8V347.8M2016.5 335.5V365.8" stroke="#2ca02c" stroke-width="2.75" fill="none"/>
<path d="M1563.6 339.5h0M1567.3 226.5h0M1571 326h0M1574.7 393.5h0M1578.4 352.2h0M1582 177.6h0M1585.7 348.8h0M1589.4 217h0M1593.1 196.3h0M1596.8 197h0M1600.5 351.1h0M1604.1 400.8h0M1607.8 203.9h0M1611.5 137.1h0M1615.2 298.2h0M1618.9 183.7h0M1622.6 134.8h0M1626.3 185.7h0M1629.9 340.1h0M1633.6 309.2h0M1637.3 180.8h0M1641 241h0M1644.7 260.6h0M1648.4 183.1h0M1652.1 256.7h0M1655.7 191.7h0M1659.4 232.6h0M1663.1 329.6h0M1666.8 347h0M1670.5 262.2h0M1674.2 230.9h0M1677.9 266.4h0M1681.5 382.4h0M1685.2 256.1h0M1688.9 251h0M1692.6 214.3h0M1696.3 282h0M1700 303.3h0M1703.7 304.3h0M1707.3 163.4h0M1711 269.4h0M1714.7 310.7h0M1718.4 210.9h0M1722.1 297.3h0M1725.8 270.9h0M1729.4 349.9h0M1733.1 220.7h0M1736.8 338.2h0M1740.5 251.1h0M1744.2 245.1h0M1747.9 243.1h0M1751.6 336.9h0M1755.2 350.7h0M1758.9 286.5h0M1762.6 299.6h0M1766.3 290.2h0M1770 265.2h0M1773.7 306.4h0M1777.4 343.9h0M1781 317.5h0M1784.7 283.5h0M1788.4 360.2h0M1792.1 316.9h0M1795.8 332.2h0M1799.5 257.4h0M1803.2 261.9h0M1806.8 358.5h0M1810.5 329.1h0M1814.2 313.3h0M1817.9 282.2h0M1821.6 330.6h0M1825.3 295.9h0M1829 273.8h0M1832.6 337.5h0M1836.3 329.3h0M1840 290.8h0M1843.7 318h0M1847.4 369h0M1851.1 364.3h0M1854.7 360.4h0M1858.4 371.4h0M1862.1 407.5h0M1865.8 346.7h0M1869.5 331.9h0M1873.2 314.7h0M1876.9 287.1h0M1880.5 328.7h0M1884.2 382.2h0M1887.9 403.5h0M1891.6 338.5h0M1895.3 307.5h0M1899 347.2h0M1902.7 329.5h0M1906.3 340.3h0M1910 338h0M1913.7 308.6h0M1917.4 352.9h0M1921.1 334.8h0M1924.8 333.9h0M1928.5 347.5h0M1932.1 339.8h0M1935.8 290.6h0M1939.5 316.7h0M1943.2 371.3h0M1946.9 349.9h0M1950.6 332.2h0M1954.3 323.9h0M1957.9 325.1h0M1961.6 330.1h0M1965.3 348.8h0M1969 319.2h0M1972.7 347.3h0M1976.4 322.1h0M1980.1 316.9h0M1983.7 360.1h0M1987.4 353.4h0M1991.1 343.6h0M1994.8 383.4h0M1998.5 330.5h0M2002.2 328.1h0M2005.8 331.9h0M2009.5 353h0M2013.2 322.5h0M2016.9 353.7h0" stroke="#1f77b4" stroke-width="7.6" stroke-linecap="round" fill="none"/>
<path d="M1563.6 357.7h0M1567.3 357.9h0M1571 206.3h0M1574.7 332h0M1578.4 295.4h0M1582 167.4h0M1585.7 188.4h0M1589.4 254.4h0M1593.1 261.5h0M1596.8 277.3h0M1600.5 200.6h0M1604.1 301.1h0M1607.8 235.3h0M1611.5 180.6h0M1615.2 271.5h0M1618.9 304.3h0M1622.6 330h0M1626.3 202.9h0M1629.9 253.7h0M1633.6 308.7h0M1637.3 313.2h0M1641 255h0M1644.7 322.4h0M1648.4 281.9h0M1652.1 197h0M1655.7 267.5h0M1659.4 261.9h0M1663.1 291.9h0M1666.8 344.7h0M1670.5 359.2h0M1674.2 258.3h0M1677.9 329.7h0M1681.5 203.8h0M1685.2 417.4h0M1688.9 187.1h0M1692.6 195.9h0M1696.3 274h0M1700 218.6h0M1703.7 258.5h0M1707.3 318.7h0M1711 197h0M1714.7 270.8h0M1718.4 230.3h0M1722.1 272.2h0M1725.8 279.6h0M1729.4 294.8h0M1733.1 256.9h0M1736.8 252.1h0M1740.5 334.6h0M1744.2 277h0M1747.9 151.4h0M1751.6 248.3h0M1755.2 246.3h0M1758.9 258.6h0M1762.6 333.2h0M1766.3 274h0M1770 379.7h0M1773.7 306.1h0M1777.4 280h0M1781 362.5h0M1784.7 267.5h0M1788.4 406.7h0M1792.1 367.3h0M1795.8 327.8h0M1799.5 324.2h0M1803.2 378h0M1806.8 297.8h0M1810.5 326.6h0M1814.2 266.6h0M1817.9 345.5h0M1821.6 371h0M1825.3 317.2h0M1829 318.9h0M1832.6 340.6h0M1836.3 358.6h0M1840 374.1h0M1843.7 348.5h0M1847.4 319.2h0M1851.1 312.4h0M1854.7 350.6h0M1858.4 339.6h0M1862.1 315.3h0M1865.8 301.2h0M1869.5 347.4h0M1873.2 328.5h0M1876.9 362.1h0M1880.5 357.9h0M1884.2 322.5h0M1887.9 334.1h0M1891.6 338.8h0M1895.3 295.3h0M1899 342h0M1902.7 361.4h0M1906.3 330.9h0M1910 331.4h0M1913.7 362.7h0M1917.4 314.3h0M1921.1 299.2h0M1924.8 350.5h0M1928.5 356.8h0M1932.1 340h0M1935.8 312.1h0M1939.5 350.6h0M1943.2 396h0M1946.9 351.4h0M1950.6 334.8h0M1954.3 335.7h0M1957.9 343.6h0M1961.6 392.2h0M1965.3 350.3h0M1969 351.9h0M1972.7 322h0M1976.4 336.6h0M1980.1 337.6h0M1983.7 357.7h0M1987.4 348.4h0M1991.1 340.8h0M1994.8 367.1h0M1998.5 346.7h0M2002.2 331.7h0M2005.8 367h0M2009.5 341.9h0M2013.2 316.6h0M2016.9 353.6h0" stroke="#ff7f0e" stroke-width="7.6" stroke-linecap="round" fill="none"/>
<path d="M1563.6 268.2h0M1567.3 310.1h0M1571 274.6h0M1574.7 328.8h0M1578.4 244.6h0M1582 297.2h0M1585.7 275.8h0M1589.4 257.9h0M1593.1 369.3h0M1596.8 323.2h0M1600.5 366.4h0M1604.1 273.5h0M1607.8 353.6h0M1611.5 161.9h0M1615.2 272.5h0M1618.9 313.5h0M1622.6 232.6h0M1626.3 235.5h0M1629.9 323.1h0M1633.6 237h0M1637.3 325h0M1641 213.6h0M1644.7 349.9h0M1648.4 261.2h0M1652.1 203.8h0M1655.7 196h0M1659.4 232.6h0M1663.1 225.3h0M1666.8 252.3h0M1670.5 248.4h0M1674.2 213.3h0M1677.9 318.1h0M1681.5 221.4h0M1685.2 242.5h0M1688.9 240.7h0M1692.6 332h0M1696.3 312.1h0M1700 207.1h0M1703.7 225.6h0M1707.3 274.8h0M1711 217.7h0M1714.7 261.5h0M1718.4 297.2h0M1722.1 376.6h0M1725.8 233.6h0M1729.4 290.7h0M1733.1 275.9h0M1736.8 382.8h0M1740.5 315.8h0M1744.2 281.1h0M1747.9 307.1h0M1751.6 330.2h0M1755.2 347.7h0M1758.9 294.5h0M1762.6 320.2h0M1766.3 320.7h0M1770 320.5h0M1773.7 335.9h0M1777.4 325h0M1781 337.1h0M1784.7 314.1h0M1788.4 367.1h0M1792.1 257.2h0M1795.8 334.4h0M1799.5 355.1h0M1803.2 289.3h0M1806.8 330.9h0M1810.5 322.1h0M1814.2 335.8h0M1817.9 425.3h0M1821.6 296h0M1825.3 358.2h0M1829 381.5h0M1832.6 349.1h0M1836.3 325.1h0M1840 338h0M1843.7 333.6h0M1847.4 321.7h0M1851.1 355.8h0M1854.7 300.8h0M1858.4 336.5h0M1862.1 351h0M1865.8 302.4h0M1869.5 348.4h0M1873.2 314.1h0M1876.9 328.8h0M1880.5 324.4h0M1884.2 309.1h0M1887.9 371.7h0M1891.6 304.8h0M1895.3 357h0M1899 363.4h0M1902.7 344.9h0M1906.3 341.6h0M1910 321.9h0M1913.7 337.6h0M1917.4 286.8h0M1921.1 376.6h0M1924.8 340.4h0M1928.5 328.2h0M1932.1 303.6h0M1935.8 323.7h0M1939.5 338.5h0M1943.2 365h0M1946.9 341.2h0M1950.6 341.2h0M1954.3 344.4h0M1957.9 338.9h0M1961.6 332.4h0M1965.3 334h0M1969 333.7h0M1972.7 361h0M1976.4 371.7h0M1980.1 336.4h0M1983.7 365.4h0M1987.4 347.6h0M1991.1 345.6h0M1994.8 358.1h0M1998.5 331.5h0M2002.2 334.5h0M2005.8 343h0M2009.5 335.9h0M2013.2 332.3h0M2016.9 350.6h0" stroke="#2ca02c" stroke-width="7.6" stroke-linecap="round" fill="none"/>
<path d="M1561.8 301.9 L1565.6 297.7 L1569.4 293.8 L1573.3 290.2 L1577.1 286.9 L1581 283.8 L1584.8 281.1 L1588.6 278.6 L1592.5 276.3 L1596.3 274.4 L1600.2 272.6 L1604 271.2 L1607.8 269.9 L1611.7 268.9 L1615.5 268.1 L1619.4 267.6 L1623.2 267.2 L1627 267.1 L1630.9 267.1 L1634.7 267.3 L1638.6 267.7 L1642.4 268.3 L1646.3 268.9 L1650.1 269.8 L1653.9 270.7 L1657.8 271.8 L1661.6 273 L1665.5 274.2 L1669.3 275.6 L1673.1 277 L1677 278.5 L1680.8 280.1 L1684.7 281.7 L1688.5 283.3 L1692.3 285 L1696.2 286.7 L1700 288.4 L1703.9 290.1 L1707.7 291.8 L1711.5 293.5 L1715.4 295.2 L1719.2 296.8 L1723.1 298.4 L1726.9 300 L1730.7 301.5 L1734.6 302.9 L1738.4 304.3 L1742.3 305.6 L1746.1 306.8 L1749.9 308 L1753.8 309.2 L1757.6 310.3 L1761.5 311.4 L1765.3 312.5 L1769.1 313.5 L1773 314.5 L1776.8 315.5 L1780.7 316.5 L1784.5 317.4 L1788.3 318.3 L1792.2 319.2 L1796 320.1 L1799.9 320.9 L1803.7 321.7 L1807.5 322.5 L1811.4 323.3 L1815.2 324 L1819.1 324.8 L1822.9 325.5 L1826.7 326.2 L1830.6 326.8 L1834.4 327.5 L1838.3 328.1 L1842.1 328.7 L1845.9 329.3 L1849.8 329.9 L1853.6 330.5 L1857.5 331 L1861.3 331.5 L1865.1 332 L1869 332.5 L1872.8 333 L1876.7 333.5 L1880.5 334 L1884.3 334.4 L1888.2 334.8 L1892 335.2 L1895.9 335.7 L1899.7 336.1 L1903.5 336.4 L1907.4 336.8 L1911.2 337.2 L1915.1 337.5 L1918.9 337.9 L1922.7 338.2 L1926.6 338.5 L1930.4 338.9 L1934.3 339.2 L1938.1 339.5 L1941.9 339.8 L1945.8 340.1 L1949.6 340.4 L1953.5 340.7 L1957.3 341 L1961.1 341.2 L1965 341.5 L1968.8 341.8 L1972.7 342 L1976.5 342.3 L1980.3 342.6 L1984.2 342.8 L1988 343.1 L1991.9 343.4 L1995.7 343.6 L1999.5 343.9 L2003.4 344.2 L2007.2 344.4 L2011.1 344.7 L2014.9 345 L2018.7 345.3" stroke="#000" stroke-width="2.85" fill="none" stroke-linejoin="round"/>
</g>
<g clip-path="url(#cb2)">
<path d="M1563.5 600.8V646.4M1567.5 565.1V610.7M1570.5 598.6V644.2M1574.5 621.3V666.9M1578.5 608.9V654.5M1582.5 554.2V599.8M1585.5 609.4V655M1589.5 568.4V614M1593.5 562.5V608.1M1596.5 563.3V608.9M1600.5 612.8V658.3M1604.5 629.2V674.8M1607.5 566.6V612.2M1611.5 545.2V590.8M1615.5 597.5V643.1M1618.5 560.3V605.9M1622.5 544.1V589.7M1626.5 560.7V606.3M1629.5 612.2V657.8M1633.5 602V647.5M1637.5 558.1V603.7M1641.5 578.4V624M1644.5 585V630.5M1648.5 557.3V602.9M1652.5 582.9V628.5M1655.5 559V604.6M1659.5 573.2V618.8M1663.5 608.6V654.2M1666.5 614.9V660.5M1670.5 582.5V628.1M1674.5 569.8V615.4M1677.5 582.9V628.5M1681.5 628.3V673.9M1685.5 577.4V623M1688.5 574.5V620.1M1692.5 558.4V603.9M1696.5 585.8V631.3M1699.5 594.2V639.7M1703.5 594V639.5M1707.5 531V576.6M1711.5 577V622.6M1714.5 595V640.6M1718.5 548.1V593.7M1722.5 587.4V633M1725.5 574.1V619.6M1729.5 611.5V657.1M1733.5 547.5V593.1M1736.5 605V650.6M1740.5 560.4V606M1744.5 556.3V601.9M1747.5 554.1V599.7M1751.5 602.8V648.4M1755.5 609.9V655.5M1758.5 574.5V620.1M1762.5 581V626.6M1766.5 575.1V620.6M1769.5 560V605.6M1773.5 582.9V628.5M1777.5 604.4V650M1781.5 588.3V633.9M1784.5 567.2V612.8M1788.5 613.5V659M1792.5 586.4V631.9M1795.5 595.5V641.1M1799.5 547.1V592.6M1803.5 548.9V594.5M1806.5 611.6V657.2M1810.5 591.8V637.3M1814.5 580.6V626.2M1817.5 558.5V604.1M1821.5 591.5V637.1M1825.5 566.4V612M1828.5 549.7V595.2M1832.5 595.3V640.9M1836.5 588.9V634.5M1840.5 559.4V605M1843.5 579.4V625M1847.5 618.4V664M1851.5 614.7V660.3M1854.5 611.6V657.1M1858.5 620.4V666M1862.5 650.2V695.8M1865.5 599.9V645.5M1869.5 587.1V632.7M1873.5 572V617.6M1876.5 547.3V592.9M1880.5 583.2V628.7M1884.5 630.6V676.2M1887.5 650.2V695.8M1891.5 590.8V636.4M1895.5 561.5V607.1M1898.5 598.4V644M1902.5 581.2V626.8M1906.5 591.2V636.8M1910.5 588.7V634.3M1913.5 559V604.6M1917.5 603.1V648.7M1921.5 584.4V630M1924.5 583.1V628.7M1928.5 597V642.6M1932.5 588.6V634.2M1935.5 535.3V580.9M1939.5 562.7V608.3M1943.5 622.5V668.1M1946.5 598.7V644.2M1950.5 578.4V623.9M1954.5 568.5V614.1M1957.5 569.3V614.8M1961.5 574.5V620.1M1965.5 596.4V642M1968.5 560.4V606M1972.5 594.2V639.8M1976.5 562.5V608.1M1980.5 555.3V600.8M1983.5 609.9V655.5M1987.5 601.3V646.9M1991.5 588.2V633.8M1994.5 641.3V686.9M1998.5 569.5V615.1M2002.5 565.5V611.1M2005.5 570.1V615.7M2009.5 599.9V645.5M2013.5 554.9V600.5M2016.5 600.6V646.2" stroke="#1f77b4" stroke-width="2.75" fill="none"/>
<path d="M1563.5 606.8V652.4M1567.5 608V653.6M1570.5 559.9V605.5M1574.5 601.6V647.2M1578.5 590.8V636.4M1582.5 551V596.6M1585.5 558.6V604.1M1589.5 580.3V625.8M1593.5 583.2V628.7M1596.5 588.8V634.4M1600.5 564.9V610.5M1604.5 597.3V642.9M1607.5 576.7V622.3M1611.5 559.3V604.8M1615.5 588.8V634.4M1618.5 599.7V645.3M1622.5 608.4V654M1626.5 566.4V612M1629.5 583.3V628.9M1633.5 601.8V647.4M1637.5 603.3V648.9M1641.5 583.3V628.9M1644.5 606.5V652.1M1648.5 592.2V637.8M1652.5 561.6V607.2M1655.5 586.4V632M1659.5 584V629.5M1663.5 594.6V640.2M1666.5 614.1V659.6M1670.5 619.4V665M1674.5 580.4V626M1677.5 607.6V653.2M1681.5 557.3V602.9M1685.5 642.4V688M1688.5 548.3V593.9M1692.5 550.7V596.3M1696.5 582.4V628M1699.5 557.9V603.5M1703.5 574V619.6M1707.5 599.7V645.3M1711.5 544.5V590M1714.5 576.8V622.3M1718.5 557V602.6M1722.5 575.6V621.2M1725.5 578.2V623.8M1729.5 584.7V630.3M1733.5 565.4V610.9M1736.5 561.9V607.5M1740.5 602.8V648.4M1744.5 572.7V618.3M1747.5 506.1V551.7M1751.5 555.7V601.3M1755.5 553.6V599.2M1758.5 559.3V604.9M1762.5 599.7V645.3M1766.5 566V611.5M1769.5 625.4V671M1773.5 582.8V628.3M1777.5 566.8V612.3M1781.5 615.2V660.7M1784.5 557.5V603.1M1788.5 642V687.6M1792.5 617.8V663.3M1795.5 592.7V638.2M1799.5 590V635.5M1803.5 624.4V670M1806.5 571.6V617.1M1810.5 590.1V635.7M1814.5 548.8V594.4M1817.5 602.2V647.8M1821.5 619.8V665.4M1825.5 581.6V627.2M1828.5 582.2V627.8M1832.5 597.6V643.1M1836.5 610.6V656.2M1840.5 622.2V667.8M1843.5 602.7V648.3M1847.5 579.8V625.3M1851.5 573.8V619.4M1854.5 603.7V649.3M1858.5 594.6V640.2M1862.5 574.3V619.9M1865.5 561.9V607.5M1869.5 600.3V645.9M1873.5 583.8V629.4M1876.5 612.6V658.2M1880.5 608.9V654.5M1884.5 577.1V622.7M1887.5 587.1V632.7M1891.5 591.1V636.7M1895.5 550.1V595.7M1898.5 593.5V639M1902.5 611.8V657.4M1906.5 582.1V627.7M1910.5 582.2V627.7M1913.5 613V658.5M1917.5 564V609.6M1921.5 548V593.6M1924.5 600.3V645.9M1928.5 606.8V652.4M1932.5 588.8V634.4M1935.5 558.5V604.1M1939.5 599.7V645.3M1943.5 649.7V695.3M1946.5 600.4V645.9M1950.5 581.4V627M1954.5 582V627.6M1957.5 590.8V636.3M1961.5 647.9V693.5M1965.5 598.3V643.9M1968.5 600V645.6M1972.5 563.1V608.7M1976.5 580.7V626.2M1980.5 581.4V627M1983.5 606.9V652.5M1987.5 594.7V640.3M1991.5 584.4V630M1994.5 619.3V664.9M1998.5 591.6V637.2M2002.5 570.6V616.1M2005.5 619.8V665.4M2009.5 583.9V629.5M2013.5 546.1V591.7M2016.5 600.5V646.1" stroke="#ff7f0e" stroke-width="2.75" fill="none"/>
<path d="M1563.5 577.3V622.9M1567.5 592.4V637.9M1570.5 582V627.6M1574.5 600.5V646.1M1578.5 574.6V620.2M1582.5 592.3V637.8M1585.5 586.3V631.9M1589.5 581.4V627M1593.5 617.3V662.9M1596.5 603.3V648.9M1600.5 617.6V663.2M1604.5 588.5V634.1M1607.5 614.6V660.2M1611.5 553.3V598.8M1615.5 589.1V634.7M1618.5 602.8V648.3M1622.5 576.3V621.9M1626.5 577.3V622.9M1629.5 606.5V652.1M1633.5 577.5V623.1M1637.5 607.4V653M1641.5 569V614.5M1644.5 616.1V661.7M1648.5 584.9V630.5M1652.5 564V609.6M1655.5 560.6V606.2M1659.5 573.2V618.8M1663.5 569.9V615.5M1666.5 579.3V624.9M1670.5 577.3V622.8M1674.5 563V608.6M1677.5 603.1V648.7M1681.5 564.4V609.9M1685.5 571.9V617.5M1688.5 570.3V615.8M1692.5 607.2V652.8M1696.5 598.4V644M1699.5 552.9V598.5M1703.5 559.7V605.3M1707.5 580.3V625.9M1711.5 553.8V599.4M1714.5 572.5V618.1M1718.5 588.1V633.7M1722.5 624.7V670.3M1725.5 556.2V601.8M1729.5 582.8V628.3M1733.5 574.7V620.3M1736.5 627.3V672.9M1740.5 593.3V638.9M1744.5 574.8V620.4M1747.5 587.6V633.2M1751.5 599.2V644.8M1755.5 608.3V653.9M1758.5 578.9V624.5M1762.5 592.4V638M1766.5 592.2V637.8M1769.5 591.6V637.2M1773.5 600.1V645.6M1777.5 593.2V638.8M1781.5 600V645.6M1784.5 585.7V631.3M1788.5 617.7V663.3M1792.5 549.1V594.7M1795.5 596.9V642.4M1799.5 609.7V655.3M1803.5 566.7V612.3M1806.5 593.4V639M1810.5 587.1V632.6M1814.5 595.9V641.5M1817.5 657.3V702.8M1821.5 567.3V612.9M1825.5 610.7V656.3M1828.5 627.4V673M1832.5 603.8V649.4M1836.5 585.8V631.4M1840.5 595V640.6M1843.5 591.3V636.9M1847.5 581.7V627.2M1851.5 608V653.6M1854.5 563.9V609.5M1858.5 592.1V637.7M1862.5 603.7V649.2M1865.5 562.9V608.5M1869.5 601.1V646.7M1873.5 571.4V617M1876.5 583.6V629.2M1880.5 579.3V624.9M1884.5 565.1V610.7M1887.5 621.3V666.9M1891.5 559.7V605.3M1895.5 607.7V653.3M1898.5 613.7V659.3M1902.5 596V641.6M1906.5 592.6V638.1M1910.5 572.9V618.4M1913.5 588V633.5M1917.5 536.3V581.8M1921.5 627.2V672.8M1924.5 589.8V635.4M1928.5 576.7V622.3M1932.5 550.2V595.7M1935.5 570.9V616.5M1939.5 586.6V632.2M1943.5 615.5V661.1M1946.5 588.9V634.5M1950.5 588.7V634.2M1954.5 592V637.6M1957.5 585.3V630.8M1961.5 577.3V622.9M1965.5 578.7V624.3M1968.5 577.9V623.5M1972.5 611V656.6M1976.5 624.4V670M1980.5 580V625.6M1983.5 616.7V662.3M1987.5 593.6V639.2M1991.5 590.8V636.3M1994.5 607.3V652.9M1998.5 571V616.5M2002.5 574.4V619.9M2005.5 585.8V631.4M2009.5 575.2V620.8M2013.5 569.3V614.9M2016.5 596V641.6" stroke="#2ca02c" stroke-width="2.75" fill="none"/>
<path d="M1515.7 610.55H2068.5" stroke="#000" stroke-width="2.5"/>
<path d="M1563.6 623.6h0M1567.3 587.9h0M1571 621.4h0M1574.7 644.1h0M1578.4 631.7h0M1582 577h0M1585.7 632.2h0M1589.4 591.2h0M1593.1 585.3h0M1596.8 586.1h0M1600.5 635.5h0M1604.1 652h0M1607.8 589.4h0M1611.5 568h0M1615.2 620.3h0M1618.9 583.1h0M1622.6 566.9h0M1626.3 583.5h0M1629.9 635h0M1633.6 624.7h0M1637.3 580.9h0M1641 601.2h0M1644.7 607.8h0M1648.4 580.1h0M1652.1 605.7h0M1655.7 581.8h0M1659.4 596h0M1663.1 631.4h0M1666.8 637.7h0M1670.5 605.3h0M1674.2 592.6h0M1677.9 605.7h0M1681.5 651.1h0M1685.2 600.2h0M1688.9 597.3h0M1692.6 581.2h0M1696.3 608.6h0M1700 616.9h0M1703.7 616.7h0M1707.3 553.8h0M1711 599.8h0M1714.7 617.8h0M1718.4 570.9h0M1722.1 610.2h0M1725.8 596.8h0M1729.4 634.3h0M1733.1 570.3h0M1736.8 627.8h0M1740.5 583.2h0M1744.2 579.1h0M1747.9 576.9h0M1751.6 625.6h0M1755.2 632.7h0M1758.9 597.3h0M1762.6 603.8h0M1766.3 597.8h0M1770 582.8h0M1773.7 605.7h0M1777.4 627.2h0M1781 611.1h0M1784.7 590h0M1788.4 636.3h0M1792.1 609.1h0M1795.8 618.3h0M1799.5 569.8h0M1803.2 571.7h0M1806.8 634.4h0M1810.5 614.6h0M1814.2 603.4h0M1817.9 581.3h0M1821.6 614.3h0M1825.3 589.2h0M1829 572.5h0M1832.6 618.1h0M1836.3 611.7h0M1840 582.2h0M1843.7 602.2h0M1847.4 641.2h0M1851.1 637.5h0M1854.7 634.4h0M1858.4 643.2h0M1862.1 673h0M1865.8 622.7h0M1869.5 609.9h0M1873.2 594.8h0M1876.9 570.1h0M1880.5 605.9h0M1884.2 653.4h0M1887.9 673h0M1891.6 613.6h0M1895.3 584.3h0M1899 621.2h0M1902.7 604h0M1906.3 614h0M1910 611.5h0M1913.7 581.8h0M1917.4 625.9h0M1921.1 607.2h0M1924.8 605.9h0M1928.5 619.8h0M1932.1 611.4h0M1935.8 558.1h0M1939.5 585.5h0M1943.2 645.3h0M1946.9 621.4h0M1950.6 601.1h0M1954.3 591.3h0M1957.9 592h0M1961.6 597.3h0M1965.3 619.2h0M1969 583.2h0M1972.7 617h0M1976.4 585.3h0M1980.1 578h0M1983.7 632.7h0M1987.4 624.1h0M1991.1 611h0M1994.8 664.1h0M1998.5 592.3h0M2002.2 588.3h0M2005.8 592.9h0M2009.5 622.7h0M2013.2 577.7h0M2016.9 623.4h0" stroke="#1f77b4" stroke-width="7.6" stroke-linecap="round" fill="none"/>
<path d="M1563.6 629.6h0M1567.3 630.8h0M1571 582.7h0M1574.7 624.4h0M1578.4 613.6h0M1582 573.8h0M1585.7 581.4h0M1589.4 603.1h0M1593.1 606h0M1596.8 611.6h0M1600.5 587.7h0M1604.1 620.1h0M1607.8 599.5h0M1611.5 582h0M1615.2 611.6h0M1618.9 622.5h0M1622.6 631.2h0M1626.3 589.2h0M1629.9 606.1h0M1633.6 624.6h0M1637.3 626.1h0M1641 606.1h0M1644.7 629.3h0M1648.4 615h0M1652.1 584.4h0M1655.7 609.2h0M1659.4 606.8h0M1663.1 617.4h0M1666.8 636.8h0M1670.5 642.2h0M1674.2 603.2h0M1677.9 630.4h0M1681.5 580.1h0M1685.2 665.2h0M1688.9 571.1h0M1692.6 573.5h0M1696.3 605.2h0M1700 580.7h0M1703.7 596.8h0M1707.3 622.5h0M1711 567.3h0M1714.7 599.6h0M1718.4 579.8h0M1722.1 598.4h0M1725.8 601h0M1729.4 607.5h0M1733.1 588.2h0M1736.8 584.7h0M1740.5 625.6h0M1744.2 595.5h0M1747.9 528.9h0M1751.6 578.5h0M1755.2 576.4h0M1758.9 582.1h0M1762.6 622.5h0M1766.3 588.7h0M1770 648.2h0M1773.7 605.5h0M1777.4 589.6h0M1781 638h0M1784.7 580.3h0M1788.4 664.8h0M1792.1 640.5h0M1795.8 615.4h0M1799.5 612.7h0M1803.2 647.2h0M1806.8 594.3h0M1810.5 612.9h0M1814.2 571.6h0M1817.9 625h0M1821.6 642.6h0M1825.3 604.4h0M1829 605h0M1832.6 620.3h0M1836.3 633.4h0M1840 645h0M1843.7 625.5h0M1847.4 602.5h0M1851.1 596.6h0M1854.7 626.5h0M1858.4 617.4h0M1862.1 597.1h0M1865.8 584.7h0M1869.5 623.1h0M1873.2 606.6h0M1876.9 635.4h0M1880.5 631.7h0M1884.2 599.9h0M1887.9 609.9h0M1891.6 613.9h0M1895.3 572.9h0M1899 616.2h0M1902.7 634.6h0M1906.3 604.9h0M1910 604.9h0M1913.7 635.8h0M1917.4 586.8h0M1921.1 570.8h0M1924.8 623.1h0M1928.5 629.6h0M1932.1 611.6h0M1935.8 581.3h0M1939.5 622.5h0M1943.2 672.5h0M1946.9 623.1h0M1950.6 604.2h0M1954.3 604.8h0M1957.9 613.5h0M1961.6 670.7h0M1965.3 621.1h0M1969 622.8h0M1972.7 585.9h0M1976.4 603.4h0M1980.1 604.2h0M1983.7 629.7h0M1987.4 617.5h0M1991.1 607.2h0M1994.8 642.1h0M1998.5 614.4h0M2002.2 593.4h0M2005.8 642.6h0M2009.5 606.7h0M2013.2 568.9h0M2016.9 623.3h0" stroke="#ff7f0e" stroke-width="7.6" stroke-linecap="round" fill="none"/>
<path d="M1563.6 600.1h0M1567.3 615.2h0M1571 604.8h0M1574.7 623.3h0M1578.4 597.4h0M1582 615.1h0M1585.7 609.1h0M1589.4 604.2h0M1593.1 640.1h0M1596.8 626.1h0M1600.5 640.4h0M1604.1 611.3h0M1607.8 637.4h0M1611.5 576h0M1615.2 611.9h0M1618.9 625.5h0M1622.6 599.1h0M1626.3 600.1h0M1629.9 629.3h0M1633.6 600.3h0M1637.3 630.2h0M1641 591.7h0M1644.7 638.9h0M1648.4 607.7h0M1652.1 586.8h0M1655.7 583.4h0M1659.4 596h0M1663.1 592.7h0M1666.8 602.1h0M1670.5 600.1h0M1674.2 585.8h0M1677.9 625.9h0M1681.5 587.1h0M1685.2 594.7h0M1688.9 593h0M1692.6 630h0M1696.3 621.2h0M1700 575.7h0M1703.7 582.5h0M1707.3 603.1h0M1711 576.6h0M1714.7 595.3h0M1718.4 610.9h0M1722.1 647.5h0M1725.8 579h0M1729.4 605.6h0M1733.1 597.5h0M1736.8 650.1h0M1740.5 616.1h0M1744.2 597.6h0M1747.9 610.4h0M1751.6 622h0M1755.2 631.1h0M1758.9 601.7h0M1762.6 615.2h0M1766.3 615h0M1770 614.4h0M1773.7 622.8h0M1777.4 616h0M1781 622.8h0M1784.7 608.5h0M1788.4 640.5h0M1792.1 571.9h0M1795.8 619.6h0M1799.5 632.5h0M1803.2 589.5h0M1806.8 616.2h0M1810.5 609.8h0M1814.2 618.7h0M1817.9 680.1h0M1821.6 590.1h0M1825.3 633.5h0M1829 650.2h0M1832.6 626.6h0M1836.3 608.6h0M1840 617.8h0M1843.7 614.1h0M1847.4 604.4h0M1851.1 630.8h0M1854.7 586.7h0M1858.4 614.9h0M1862.1 626.5h0M1865.8 585.7h0M1869.5 623.9h0M1873.2 594.2h0M1876.9 606.4h0M1880.5 602.1h0M1884.2 587.9h0M1887.9 644.1h0M1891.6 582.5h0M1895.3 630.5h0M1899 636.5h0M1902.7 618.8h0M1906.3 615.3h0M1910 595.7h0M1913.7 610.7h0M1917.4 559h0M1921.1 650h0M1924.8 612.6h0M1928.5 599.5h0M1932.1 572.9h0M1935.8 593.7h0M1939.5 609.4h0M1943.2 638.3h0M1946.9 611.7h0M1950.6 611.5h0M1954.3 614.8h0M1957.9 608.1h0M1961.6 600.1h0M1965.3 601.5h0M1969 600.7h0M1972.7 633.8h0M1976.4 647.2h0M1980.1 602.8h0M1983.7 639.5h0M1987.4 616.4h0M1991.1 613.6h0M1994.8 630.1h0M1998.5 593.8h0M2002.2 597.2h0M2005.8 608.6h0M2009.5 598h0M2013.2 592.1h0M2016.9 618.8h0" stroke="#2ca02c" stroke-width="7.6" stroke-linecap="round" fill="none"/>
</g>
<path d="M153.5 496.6V490.3M153.5 724.5V718.2M245.5 496.6V490.3M245.5 724.5V718.2M338.5 496.6V490.3M338.5 724.5V718.2M430.5 496.6V490.3M430.5 724.5V718.2M522.5 496.6V490.3M522.5 724.5V718.2M614.5 496.6V490.3M614.5 724.5V718.2M107.7 446H114M107.7 218H114M107.7 481.3H111.7M107.7 468.1H111.7M107.7 456.4H111.7M107.7 377.4H111.7M107.7 337.2H111.7M107.7 308.7H111.7M107.7 286.6H111.7M107.7 268.6H111.7M107.7 253.3H111.7M107.7 240.1H111.7M107.7 228.4H111.7M107.7 149.3H111.7M107.7 109.1H111.7M107.7 80.7H111.7M107.7 58.6H111.7M107.7 667.5H114M107.7 610.5H114M107.7 553.6H114" stroke="#000" stroke-width="2.7" fill="none"/>
<path d="M107.7 40.5H660.5V724.5H107.7ZM107.7 496.6H660.5" stroke="#000" stroke-width="2.4" fill="none" stroke-linejoin="miter" stroke-linecap="square"/>
<path d="M857.5 496.6V490.3M857.5 724.5V718.2M949.5 496.6V490.3M949.5 724.5V718.2M1042.5 496.6V490.3M1042.5 724.5V718.2M1134.5 496.6V490.3M1134.5 724.5V718.2M1226.5 496.6V490.3M1226.5 724.5V718.2M1318.5 496.6V490.3M1318.5 724.5V718.2M811.7 421.8H818M811.7 338.9H818M811.7 256H818M811.7 173.1H818M811.7 90.1H818M811.7 667.5H818M811.7 610.5H818M811.7 553.6H818" stroke="#000" stroke-width="2.7" fill="none"/>
<path d="M811.7 40.5H1364.5V724.5H811.7ZM811.7 496.6H1364.5" stroke="#000" stroke-width="2.4" fill="none" stroke-linejoin="miter" stroke-linecap="square"/>
<path d="M1561.5 496.6V490.3M1561.5 724.5V718.2M1653.5 496.6V490.3M1653.5 724.5V718.2M1746.5 496.6V490.3M1746.5 724.5V718.2M1838.5 496.6V490.3M1838.5 724.5V718.2M1930.5 496.6V490.3M1930.5 724.5V718.2M2022.5 496.6V490.3M2022.5 724.5V718.2M1515.7 441.9H1522M1515.7 350.6H1522M1515.7 259.4H1522M1515.7 168.1H1522M1515.7 76.9H1522M1515.7 667.5H1522M1515.7 610.5H1522M1515.7 553.6H1522" stroke="#000" stroke-width="2.7" fill="none"/>
<path d="M1515.7 40.5H2068.5V724.5H1515.7ZM1515.7 496.6H2068.5" stroke="#000" stroke-width="2.4" fill="none" stroke-linejoin="miter" stroke-linecap="square"/>
<rect x="480.5" y="55.6" width="165.3" height="135.3" rx="5.5" fill="#fff" fill-opacity="0.8" stroke="#cccccc" stroke-width="1.6"/>
<path d="M507.3 77.7H537.3M522.3 62.7V92.7" stroke="#1f77b4" stroke-width="2.7"/>
<circle cx="522.3" cy="77.7" r="3.7" fill="#1f77b4"/>
<text transform="translate(575.8 88.3) scale(1 1.01)" class="t">DU1</text>
<path d="M507.3 119.9H537.3M522.3 104.9V134.9" stroke="#ff7f0e" stroke-width="2.7"/>
<circle cx="522.3" cy="119.9" r="3.7" fill="#ff7f0e"/>
<text transform="translate(575.8 130.5) scale(1 1.01)" class="t">DU2</text>
<path d="M507.3 161.8H537.3M522.3 146.8V176.8" stroke="#2ca02c" stroke-width="2.7"/>
<circle cx="522.3" cy="161.8" r="3.7" fill="#2ca02c"/>
<text transform="translate(575.8 172.4) scale(1 1.01)" class="t">DU3</text>
<rect x="1184.5" y="55.6" width="165.3" height="135.3" rx="5.5" fill="#fff" fill-opacity="0.8" stroke="#cccccc" stroke-width="1.6"/>
<path d="M1211.3 77.7H1241.3M1226.3 62.7V92.7" stroke="#1f77b4" stroke-width="2.7"/>
<circle cx="1226.3" cy="77.7" r="3.7" fill="#1f77b4"/>
<text transform="translate(1279.8 88.3) scale(1 1.01)" class="t">DU1</text>
<path d="M1211.3 119.9H1241.3M1226.3 104.9V134.9" stroke="#ff7f0e" stroke-width="2.7"/>
<circle cx="1226.3" cy="119.9" r="3.7" fill="#ff7f0e"/>
<text transform="translate(1279.8 130.5) scale(1 1.01)" class="t">DU2</text>
<path d="M1211.3 161.8H1241.3M1226.3 146.8V176.8" stroke="#2ca02c" stroke-width="2.7"/>
<circle cx="1226.3" cy="161.8" r="3.7" fill="#2ca02c"/>
<text transform="translate(1279.8 172.4) scale(1 1.01)" class="t">DU3</text>
<rect x="1888.5" y="55.6" width="165.3" height="135.3" rx="5.5" fill="#fff" fill-opacity="0.8" stroke="#cccccc" stroke-width="1.6"/>
<path d="M1915.3 77.7H1945.3M1930.3 62.7V92.7" stroke="#1f77b4" stroke-width="2.7"/>
<circle cx="1930.3" cy="77.7" r="3.7" fill="#1f77b4"/>
<text transform="translate(1983.8 88.3) scale(1 1.01)" class="t">DU1</text>
<path d="M1915.3 119.9H1945.3M1930.3 104.9V134.9" stroke="#ff7f0e" stroke-width="2.7"/>
<circle cx="1930.3" cy="119.9" r="3.7" fill="#ff7f0e"/>
<text transform="translate(1983.8 130.5) scale(1 1.01)" class="t">DU2</text>
<path d="M1915.3 161.8H1945.3M1930.3 146.8V176.8" stroke="#2ca02c" stroke-width="2.7"/>
<circle cx="1930.3" cy="161.8" r="3.7" fill="#2ca02c"/>
<text transform="translate(1983.8 172.4) scale(1 1.01)" class="t">DU3</text>
<text transform="translate(153.8 752) scale(1 1.01)" class="t" text-anchor="middle">2</text>
<text transform="translate(245.9 752) scale(1 1.01)" class="t" text-anchor="middle">3</text>
<text transform="translate(338 752) scale(1 1.01)" class="t" text-anchor="middle">4</text>
<text transform="translate(430.2 752) scale(1 1.01)" class="t" text-anchor="middle">5</text>
<text transform="translate(522.3 752) scale(1 1.01)" class="t" text-anchor="middle">6</text>
<text transform="translate(614.4 752) scale(1 1.01)" class="t" text-anchor="middle">7</text>
<text transform="translate(99.1 231.5) scale(1 1.01)" class="t" text-anchor="end">10<tspan class="s" dy="-18.0">0</tspan></text>
<text transform="translate(99.1 459.5) scale(1 1.01)" class="t" text-anchor="end">10<tspan class="s" dy="-18.0">−1</tspan></text>
<text transform="translate(100.4 506.8) scale(1 1.01)" class="t" text-anchor="end">5.0</text>
<text transform="translate(100.4 563.8) scale(1 1.01)" class="t" text-anchor="end">2.5</text>
<text transform="translate(100.4 620.8) scale(1 1.01)" class="t" text-anchor="end">0.0</text>
<text transform="translate(100.4 677.7) scale(1 1.01)" class="t" text-anchor="end">−2.5</text>
<text transform="translate(100.4 734.7) scale(1 1.01)" class="t" text-anchor="end">−5.0</text>
<text transform="translate(384.1 786.7) scale(1 1.01)" class="t" text-anchor="middle">Energy, keV</text>
<text transform="translate(857.8 752) scale(1 1.01)" class="t" text-anchor="middle">2</text>
<text transform="translate(949.9 752) scale(1 1.01)" class="t" text-anchor="middle">3</text>
<text transform="translate(1042 752) scale(1 1.01)" class="t" text-anchor="middle">4</text>
<text transform="translate(1134.2 752) scale(1 1.01)" class="t" text-anchor="middle">5</text>
<text transform="translate(1226.3 752) scale(1 1.01)" class="t" text-anchor="middle">6</text>
<text transform="translate(1318.4 752) scale(1 1.01)" class="t" text-anchor="middle">7</text>
<text transform="translate(804.4 100.3) scale(1 1.01)" class="t" text-anchor="end">0.10</text>
<text transform="translate(804.4 183.3) scale(1 1.01)" class="t" text-anchor="end">0.05</text>
<text transform="translate(804.4 266.2) scale(1 1.01)" class="t" text-anchor="end">0.00</text>
<text transform="translate(804.4 349.1) scale(1 1.01)" class="t" text-anchor="end">−0.05</text>
<text transform="translate(804.4 432) scale(1 1.01)" class="t" text-anchor="end">−0.10</text>
<text transform="translate(804.4 506.8) scale(1 1.01)" class="t" text-anchor="end">5.0</text>
<text transform="translate(804.4 563.8) scale(1 1.01)" class="t" text-anchor="end">2.5</text>
<text transform="translate(804.4 620.8) scale(1 1.01)" class="t" text-anchor="end">0.0</text>
<text transform="translate(804.4 677.7) scale(1 1.01)" class="t" text-anchor="end">−2.5</text>
<text transform="translate(804.4 734.7) scale(1 1.01)" class="t" text-anchor="end">−5.0</text>
<text transform="translate(1088.1 786.7) scale(1 1.01)" class="t" text-anchor="middle">Energy, keV</text>
<text transform="translate(1561.8 752) scale(1 1.01)" class="t" text-anchor="middle">2</text>
<text transform="translate(1653.9 752) scale(1 1.01)" class="t" text-anchor="middle">3</text>
<text transform="translate(1746 752) scale(1 1.01)" class="t" text-anchor="middle">4</text>
<text transform="translate(1838.2 752) scale(1 1.01)" class="t" text-anchor="middle">5</text>
<text transform="translate(1930.3 752) scale(1 1.01)" class="t" text-anchor="middle">6</text>
<text transform="translate(2022.4 752) scale(1 1.01)" class="t" text-anchor="middle">7</text>
<text transform="translate(1508.4 87.1) scale(1 1.01)" class="t" text-anchor="end">0.15</text>
<text transform="translate(1508.4 178.3) scale(1 1.01)" class="t" text-anchor="end">0.10</text>
<text transform="translate(1508.4 269.6) scale(1 1.01)" class="t" text-anchor="end">0.05</text>
<text transform="translate(1508.4 360.8) scale(1 1.01)" class="t" text-anchor="end">0.00</text>
<text transform="translate(1508.4 452.1) scale(1 1.01)" class="t" text-anchor="end">−0.05</text>
<text transform="translate(1508.4 506.8) scale(1 1.01)" class="t" text-anchor="end">5.0</text>
<text transform="translate(1508.4 563.8) scale(1 1.01)" class="t" text-anchor="end">2.5</text>
<text transform="translate(1508.4 620.8) scale(1 1.01)" class="t" text-anchor="end">0.0</text>
<text transform="translate(1508.4 677.7) scale(1 1.01)" class="t" text-anchor="end">−2.5</text>
<text transform="translate(1508.4 734.7) scale(1 1.01)" class="t" text-anchor="end">−5.0</text>
<text transform="translate(1792.1 786.7) scale(1 1.01)" class="t" text-anchor="middle">Energy, keV</text>
<text transform="translate(32.6 371.7) rotate(-90) scale(1 1.01)" class="t">counts s<tspan x="96.8" y="-8.3" style="font-size:24.5px">−</tspan><tspan class="s" x="109.9" y="-11.1">1</tspan><tspan x="129.8" y="0">keV</tspan><tspan x="180.0" y="-8.3" style="font-size:24.5px">−</tspan><tspan class="s" x="192.7" y="-11.1">1</tspan></text>
<text transform="translate(34 610.5) rotate(-90) scale(1 1.01)" class="t" text-anchor="middle">(data-model)/error</text>
<text transform="translate(721.9 371.7) rotate(-90) scale(1 1.01)" class="t">counts s<tspan x="96.8" y="-8.3" style="font-size:24.5px">−</tspan><tspan class="s" x="109.9" y="-11.1">1</tspan><tspan x="129.8" y="0">keV</tspan><tspan x="180.0" y="-8.3" style="font-size:24.5px">−</tspan><tspan class="s" x="192.7" y="-11.1">1</tspan></text>
<text transform="translate(737.9 610.5) rotate(-90) scale(1 1.01)" class="t" text-anchor="middle">(data-model)/error</text>
<text transform="translate(1427 371.7) rotate(-90) scale(1 1.01)" class="t">counts s<tspan x="96.8" y="-8.3" style="font-size:24.5px">−</tspan><tspan class="s" x="109.9" y="-11.1">1</tspan><tspan x="129.8" y="0">keV</tspan><tspan x="180.0" y="-8.3" style="font-size:24.5px">−</tspan><tspan class="s" x="192.7" y="-11.1">1</tspan></text>
<text transform="translate(1441.9 610.5) rotate(-90) scale(1 1.01)" class="t" text-anchor="middle">(data-model)/error</text>
<text x="358.5" y="24.2" class="ti" text-anchor="middle">I</text>
<text x="1062.8" y="24.2" class="ti" text-anchor="middle">Q</text>
<text x="1767.7" y="24.2" class="ti" text-anchor="middle">U</text>
</svg>
</body></html>
